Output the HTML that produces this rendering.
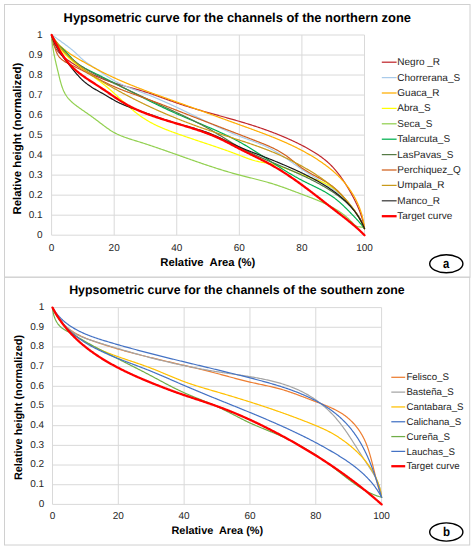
<!DOCTYPE html>
<html><head><meta charset="utf-8"><style>html,body{margin:0;padding:0;background:#fff;width:476px;height:550px;overflow:hidden;position:relative}</style></head>
<body><svg width="476" height="550" viewBox="0 0 476 550" style="position:absolute;left:0;top:0;font-family:'Liberation Sans', sans-serif;text-rendering:geometricPrecision">
<rect x="0" y="0" width="476" height="550" fill="#fff"/>
<rect x="4.5" y="4.5" width="465.5" height="272.7" fill="none" stroke="#D0D0D0" stroke-width="1"/>
<rect x="4.5" y="277.2" width="465.2" height="267.8" fill="none" stroke="#D0D0D0" stroke-width="1"/>
<line x1="51.60" y1="35.00" x2="51.60" y2="235.20" stroke="#D9D9D9" stroke-width="1"/><line x1="114.18" y1="35.00" x2="114.18" y2="235.20" stroke="#D9D9D9" stroke-width="1"/><line x1="176.76" y1="35.00" x2="176.76" y2="235.20" stroke="#D9D9D9" stroke-width="1"/><line x1="239.34" y1="35.00" x2="239.34" y2="235.20" stroke="#D9D9D9" stroke-width="1"/><line x1="301.92" y1="35.00" x2="301.92" y2="235.20" stroke="#D9D9D9" stroke-width="1"/><line x1="364.50" y1="35.00" x2="364.50" y2="235.20" stroke="#D9D9D9" stroke-width="1"/><line x1="51.60" y1="235.20" x2="364.50" y2="235.20" stroke="#D9D9D9" stroke-width="1"/><line x1="51.60" y1="215.18" x2="364.50" y2="215.18" stroke="#D9D9D9" stroke-width="1"/><line x1="51.60" y1="195.16" x2="364.50" y2="195.16" stroke="#D9D9D9" stroke-width="1"/><line x1="51.60" y1="175.14" x2="364.50" y2="175.14" stroke="#D9D9D9" stroke-width="1"/><line x1="51.60" y1="155.12" x2="364.50" y2="155.12" stroke="#D9D9D9" stroke-width="1"/><line x1="51.60" y1="135.10" x2="364.50" y2="135.10" stroke="#D9D9D9" stroke-width="1"/><line x1="51.60" y1="115.08" x2="364.50" y2="115.08" stroke="#D9D9D9" stroke-width="1"/><line x1="51.60" y1="95.06" x2="364.50" y2="95.06" stroke="#D9D9D9" stroke-width="1"/><line x1="51.60" y1="75.04" x2="364.50" y2="75.04" stroke="#D9D9D9" stroke-width="1"/><line x1="51.60" y1="55.02" x2="364.50" y2="55.02" stroke="#D9D9D9" stroke-width="1"/><line x1="51.60" y1="35.00" x2="364.50" y2="35.00" stroke="#D9D9D9" stroke-width="1"/>
<line x1="52.50" y1="307.60" x2="52.50" y2="504.40" stroke="#D9D9D9" stroke-width="1"/><line x1="118.32" y1="307.60" x2="118.32" y2="504.40" stroke="#D9D9D9" stroke-width="1"/><line x1="184.14" y1="307.60" x2="184.14" y2="504.40" stroke="#D9D9D9" stroke-width="1"/><line x1="249.96" y1="307.60" x2="249.96" y2="504.40" stroke="#D9D9D9" stroke-width="1"/><line x1="315.78" y1="307.60" x2="315.78" y2="504.40" stroke="#D9D9D9" stroke-width="1"/><line x1="381.60" y1="307.60" x2="381.60" y2="504.40" stroke="#D9D9D9" stroke-width="1"/><line x1="52.50" y1="504.40" x2="381.60" y2="504.40" stroke="#D9D9D9" stroke-width="1"/><line x1="52.50" y1="484.72" x2="381.60" y2="484.72" stroke="#D9D9D9" stroke-width="1"/><line x1="52.50" y1="465.04" x2="381.60" y2="465.04" stroke="#D9D9D9" stroke-width="1"/><line x1="52.50" y1="445.36" x2="381.60" y2="445.36" stroke="#D9D9D9" stroke-width="1"/><line x1="52.50" y1="425.68" x2="381.60" y2="425.68" stroke="#D9D9D9" stroke-width="1"/><line x1="52.50" y1="406.00" x2="381.60" y2="406.00" stroke="#D9D9D9" stroke-width="1"/><line x1="52.50" y1="386.32" x2="381.60" y2="386.32" stroke="#D9D9D9" stroke-width="1"/><line x1="52.50" y1="366.64" x2="381.60" y2="366.64" stroke="#D9D9D9" stroke-width="1"/><line x1="52.50" y1="346.96" x2="381.60" y2="346.96" stroke="#D9D9D9" stroke-width="1"/><line x1="52.50" y1="327.28" x2="381.60" y2="327.28" stroke="#D9D9D9" stroke-width="1"/><line x1="52.50" y1="307.60" x2="381.60" y2="307.60" stroke="#D9D9D9" stroke-width="1"/>
<path d="M51.60,35.00 L51.66,36.12 L51.76,37.21 L51.90,38.27 L52.07,39.30 L52.28,40.31 L52.53,41.30 L52.82,42.25 L53.13,43.19 L53.48,44.10 L53.86,44.99 L54.27,45.85 L54.72,46.70 L55.18,47.52 L55.68,48.32 L56.20,49.11 L56.75,49.88 L57.32,50.62 L57.91,51.35 L58.53,52.07 L59.16,52.77 L59.82,53.45 L60.49,54.12 L61.18,54.78 L61.89,55.42 L62.61,56.05 L63.34,56.68 L64.09,57.28 L64.85,57.88 L65.62,58.47 L66.40,59.06 L67.19,59.63 L67.99,60.20 L68.79,60.76 L69.60,61.31 L70.41,61.86 L71.22,62.40 L72.04,62.95 L72.86,63.48 L73.69,64.01 L74.51,64.54 L75.34,65.06 L76.17,65.58 L77.01,66.09 L77.85,66.60 L78.69,67.11 L79.53,67.61 L80.38,68.10 L81.23,68.59 L82.08,69.08 L82.93,69.56 L83.79,70.03 L84.65,70.50 L85.51,70.97 L86.38,71.43 L87.25,71.88 L88.11,72.33 L88.99,72.78 L89.86,73.21 L90.74,73.65 L91.62,74.08 L92.50,74.50 L93.38,74.92 L94.27,75.33 L95.16,75.74 L96.05,76.14 L96.94,76.53 L97.83,76.92 L98.73,77.31 L99.63,77.69 L100.53,78.06 L101.43,78.43 L102.34,78.79 L103.25,79.15 L104.15,79.49 L105.06,79.84 L105.98,80.18 L106.89,80.51 L107.81,80.83 L108.73,81.15 L109.65,81.47 L110.57,81.78 L111.49,82.08 L112.41,82.38 L113.34,82.68 L114.27,82.97 L115.19,83.26 L116.12,83.54 L117.05,83.83 L117.98,84.10 L118.92,84.38 L119.85,84.65 L120.78,84.92 L121.72,85.19 L122.65,85.45 L123.59,85.72 L124.52,85.98 L125.46,86.24 L126.40,86.50 L127.33,86.76 L128.27,87.02 L129.21,87.28 L130.15,87.53 L131.08,87.79 L132.02,88.05 L132.96,88.31 L133.90,88.57 L134.83,88.83 L135.77,89.10 L136.71,89.36 L137.64,89.63 L138.58,89.90 L139.51,90.17 L140.44,90.44 L141.38,90.72 L142.31,91.00 L143.24,91.28 L144.17,91.56 L145.10,91.85 L146.03,92.15 L146.95,92.45 L147.88,92.75 L148.80,93.05 L149.73,93.36 L150.65,93.67 L151.57,93.98 L152.50,94.30 L153.42,94.62 L154.34,94.94 L155.26,95.26 L156.17,95.59 L157.09,95.92 L158.01,96.24 L158.93,96.57 L159.85,96.91 L160.76,97.24 L161.68,97.57 L162.60,97.90 L163.52,98.24 L164.43,98.57 L165.35,98.91 L166.27,99.24 L167.18,99.57 L168.10,99.91 L169.02,100.24 L169.94,100.57 L170.85,100.90 L171.77,101.23 L172.69,101.56 L173.61,101.88 L174.53,102.21 L175.45,102.53 L176.37,102.85 L177.30,103.17 L178.22,103.48 L179.14,103.79 L180.07,104.10 L180.99,104.41 L181.92,104.72 L182.85,105.02 L183.77,105.32 L184.70,105.62 L185.63,105.92 L186.56,106.21 L187.49,106.50 L188.42,106.79 L189.35,107.08 L190.28,107.37 L191.21,107.66 L192.15,107.94 L193.08,108.22 L194.01,108.50 L194.95,108.78 L195.88,109.06 L196.81,109.34 L197.75,109.61 L198.68,109.89 L199.62,110.16 L200.56,110.43 L201.49,110.70 L202.43,110.97 L203.37,111.24 L204.30,111.51 L205.24,111.78 L206.18,112.04 L207.12,112.31 L208.06,112.57 L209.00,112.84 L209.93,113.10 L210.87,113.36 L211.81,113.63 L212.75,113.89 L213.69,114.15 L214.63,114.41 L215.57,114.67 L216.51,114.93 L217.45,115.19 L218.39,115.45 L219.33,115.71 L220.27,115.97 L221.21,116.23 L222.14,116.50 L223.08,116.76 L224.02,117.02 L224.96,117.28 L225.90,117.54 L226.84,117.80 L227.78,118.06 L228.72,118.33 L229.65,118.59 L230.59,118.86 L231.53,119.12 L232.47,119.39 L233.41,119.65 L234.34,119.92 L235.28,120.19 L236.22,120.46 L237.15,120.73 L238.09,121.00 L239.02,121.27 L239.96,121.54 L240.89,121.82 L241.83,122.09 L242.76,122.37 L243.69,122.65 L244.63,122.93 L245.56,123.21 L246.49,123.50 L247.42,123.78 L248.35,124.07 L249.28,124.36 L250.21,124.65 L251.14,124.94 L252.07,125.23 L253.00,125.53 L253.92,125.82 L254.85,126.12 L255.77,126.43 L256.70,126.73 L257.62,127.04 L258.55,127.35 L259.47,127.66 L260.39,127.97 L261.31,128.28 L262.23,128.60 L263.15,128.92 L264.07,129.24 L264.99,129.57 L265.91,129.90 L266.82,130.22 L267.74,130.56 L268.65,130.89 L269.57,131.23 L270.48,131.57 L271.39,131.91 L272.30,132.25 L273.21,132.60 L274.12,132.95 L275.03,133.30 L275.93,133.66 L276.84,134.02 L277.74,134.38 L278.65,134.74 L279.55,135.11 L280.45,135.48 L281.35,135.85 L282.25,136.22 L283.15,136.60 L284.04,136.98 L284.94,137.37 L285.83,137.75 L286.73,138.14 L287.62,138.53 L288.51,138.93 L289.40,139.33 L290.29,139.73 L291.17,140.14 L292.06,140.54 L292.94,140.96 L293.83,141.37 L294.71,141.79 L295.59,142.21 L296.47,142.63 L297.35,143.06 L298.22,143.49 L299.10,143.93 L299.97,144.37 L300.84,144.81 L301.71,145.25 L302.58,145.70 L303.45,146.15 L304.31,146.61 L305.18,147.07 L306.04,147.53 L306.90,148.00 L307.75,148.47 L308.61,148.95 L309.46,149.43 L310.30,149.92 L311.15,150.41 L311.99,150.91 L312.82,151.41 L313.66,151.92 L314.49,152.43 L315.31,152.95 L316.13,153.48 L316.94,154.01 L317.75,154.55 L318.56,155.09 L319.36,155.64 L320.15,156.20 L320.94,156.77 L321.72,157.34 L322.50,157.92 L323.27,158.51 L324.03,159.11 L324.79,159.71 L325.53,160.32 L326.28,160.94 L327.01,161.57 L327.74,162.21 L328.46,162.85 L329.17,163.51 L329.87,164.17 L330.57,164.84 L331.26,165.53 L331.93,166.22 L332.60,166.92 L333.27,167.62 L333.92,168.34 L334.57,169.07 L335.21,169.80 L335.84,170.54 L336.47,171.28 L337.08,172.04 L337.69,172.80 L338.30,173.56 L338.90,174.34 L339.49,175.12 L340.07,175.90 L340.65,176.69 L341.22,177.49 L341.79,178.29 L342.35,179.10 L342.90,179.91 L343.45,180.72 L343.99,181.54 L344.53,182.36 L345.06,183.19 L345.58,184.02 L346.11,184.85 L346.62,185.69 L347.14,186.53 L347.64,187.37 L348.15,188.21 L348.64,189.06 L349.14,189.90 L349.63,190.75 L350.12,191.60 L350.60,192.45 L351.08,193.30 L351.55,194.16 L352.02,195.01 L352.49,195.86 L352.95,196.72 L353.40,197.58 L353.85,198.44 L354.30,199.30 L354.74,200.17 L355.17,201.03 L355.60,201.90 L356.02,202.77 L356.43,203.65 L356.84,204.52 L357.24,205.40 L357.64,206.28 L358.02,207.17 L358.40,208.06 L358.78,208.95 L359.14,209.84 L359.50,210.74 L359.85,211.64 L360.19,212.54 L360.52,213.45 L360.84,214.36 L361.15,215.28 L361.46,216.20 L361.76,217.13 L362.04,218.05 L362.32,218.99 L362.58,219.93 L362.84,220.87 L363.09,221.82 L363.32,222.77 L363.55,223.73 L363.76,224.69 L363.96,225.66 L364.15,226.63 L364.33,227.61 L364.50,228.59" fill="none" stroke="#C0272D" stroke-width="1.2" stroke-linejoin="round" stroke-linecap="round"/><path d="M51.60,35.00 L52.38,35.49 L53.16,36.00 L53.94,36.51 L54.71,37.03 L55.48,37.55 L56.25,38.08 L57.01,38.62 L57.78,39.16 L58.54,39.71 L59.30,40.25 L60.06,40.80 L60.82,41.35 L61.58,41.90 L62.34,42.45 L63.10,43.01 L63.86,43.56 L64.62,44.11 L65.37,44.67 L66.13,45.22 L66.88,45.78 L67.63,46.34 L68.37,46.90 L69.11,47.47 L69.85,48.04 L70.58,48.62 L71.31,49.20 L72.03,49.79 L72.75,50.38 L73.45,50.99 L74.15,51.60 L74.84,52.22 L75.53,52.85 L76.21,53.48 L76.88,54.12 L77.55,54.77 L78.22,55.41 L78.89,56.06 L79.57,56.70 L80.24,57.33 L80.92,57.97 L81.61,58.59 L82.30,59.20 L83.00,59.81 L83.71,60.40 L84.43,60.99 L85.16,61.56 L85.90,62.12 L86.65,62.67 L87.40,63.21 L88.17,63.74 L88.94,64.26 L89.72,64.77 L90.51,65.27 L91.30,65.78 L92.09,66.28 L92.88,66.78 L93.68,67.28 L94.47,67.78 L95.26,68.28 L96.05,68.80 L96.84,69.31 L97.62,69.83 L98.40,70.35 L99.18,70.88 L99.96,71.41 L100.74,71.94 L101.52,72.47 L102.29,73.00 L103.07,73.53 L103.85,74.07 L104.63,74.59 L105.40,75.12 L106.18,75.65 L106.97,76.17 L107.75,76.69 L108.53,77.20 L109.32,77.71 L110.11,78.21 L110.91,78.71 L111.70,79.20 L112.50,79.68 L113.31,80.15 L114.12,80.62 L114.93,81.08 L115.75,81.52 L116.58,81.96 L117.41,82.39 L118.24,82.81 L119.07,83.23 L119.91,83.64 L120.76,84.04 L121.61,84.43 L122.46,84.82 L123.31,85.20 L124.17,85.57 L125.03,85.94 L125.89,86.31 L126.75,86.67 L127.62,87.02 L128.49,87.37 L129.36,87.72 L130.24,88.06 L131.11,88.40 L131.99,88.74 L132.86,89.08 L133.74,89.41 L134.62,89.74 L135.50,90.07 L136.38,90.40 L137.27,90.73 L138.15,91.06 L139.03,91.38 L139.91,91.71 L140.79,92.04 L141.68,92.37 L142.56,92.70 L143.44,93.03 L144.32,93.36 L145.20,93.70 L146.07,94.03 L146.95,94.37 L147.82,94.72 L148.70,95.06 L149.57,95.41 L150.44,95.76 L151.31,96.11 L152.18,96.46 L153.05,96.82 L153.92,97.17 L154.79,97.53 L155.65,97.90 L156.52,98.26 L157.38,98.62 L158.24,98.99 L159.11,99.36 L159.97,99.73 L160.83,100.10 L161.69,100.48 L162.54,100.85 L163.40,101.23 L164.26,101.61 L165.12,101.99 L165.97,102.37 L166.83,102.76 L167.68,103.14 L168.53,103.53 L169.39,103.92 L170.24,104.30 L171.09,104.70 L171.94,105.09 L172.79,105.48 L173.64,105.87 L174.49,106.27 L175.34,106.66 L176.19,107.06 L177.04,107.46 L177.88,107.86 L178.73,108.26 L179.58,108.66 L180.42,109.06 L181.27,109.46 L182.12,109.86 L182.96,110.26 L183.81,110.67 L184.65,111.07 L185.50,111.48 L186.34,111.88 L187.18,112.29 L188.03,112.69 L188.87,113.10 L189.71,113.51 L190.56,113.92 L191.40,114.32 L192.24,114.73 L193.09,115.14 L193.93,115.55 L194.77,115.95 L195.62,116.36 L196.46,116.77 L197.30,117.18 L198.15,117.59 L198.99,117.99 L199.83,118.40 L200.68,118.81 L201.52,119.22 L202.36,119.62 L203.21,120.03 L204.05,120.43 L204.89,120.84 L205.74,121.25 L206.58,121.65 L207.43,122.05 L208.27,122.46 L209.12,122.86 L209.96,123.26 L210.81,123.66 L211.66,124.06 L212.50,124.46 L213.35,124.86 L214.20,125.26 L215.05,125.66 L215.90,126.05 L216.75,126.45 L217.60,126.84 L218.45,127.23 L219.30,127.62 L220.15,128.01 L221.01,128.40 L221.86,128.79 L222.71,129.17 L223.57,129.55 L224.43,129.93 L225.28,130.31 L226.14,130.69 L227.00,131.07 L227.86,131.44 L228.72,131.81 L229.58,132.18 L230.45,132.55 L231.31,132.91 L232.18,133.27 L233.04,133.63 L233.91,133.99 L234.78,134.35 L235.65,134.70 L236.52,135.05 L237.40,135.40 L238.27,135.74 L239.15,136.08 L240.02,136.42 L240.90,136.76 L241.78,137.09 L242.66,137.42 L243.55,137.76 L244.43,138.08 L245.31,138.41 L246.19,138.74 L247.08,139.06 L247.96,139.39 L248.84,139.72 L249.73,140.04 L250.61,140.37 L251.49,140.70 L252.37,141.03 L253.25,141.36 L254.13,141.69 L255.01,142.02 L255.89,142.36 L256.76,142.70 L257.64,143.04 L258.51,143.39 L259.38,143.74 L260.25,144.09 L261.11,144.45 L261.97,144.81 L262.83,145.17 L263.69,145.54 L264.55,145.92 L265.40,146.30 L266.24,146.69 L267.09,147.09 L267.93,147.49 L268.77,147.90 L269.60,148.31 L270.43,148.73 L271.26,149.16 L272.08,149.60 L272.89,150.05 L273.71,150.50 L274.52,150.96 L275.32,151.43 L276.12,151.90 L276.92,152.38 L277.72,152.87 L278.51,153.36 L279.30,153.86 L280.09,154.36 L280.87,154.87 L281.65,155.38 L282.43,155.89 L283.21,156.41 L283.99,156.93 L284.76,157.46 L285.54,157.99 L286.31,158.52 L287.08,159.05 L287.85,159.59 L288.62,160.13 L289.39,160.67 L290.16,161.21 L290.93,161.75 L291.70,162.29 L292.47,162.83 L293.23,163.38 L294.00,163.92 L294.77,164.46 L295.55,165.00 L296.32,165.54 L297.09,166.08 L297.87,166.61 L298.64,167.15 L299.42,167.68 L300.20,168.21 L300.98,168.73 L301.76,169.26 L302.55,169.78 L303.34,170.29 L304.13,170.81 L304.92,171.31 L305.72,171.82 L306.51,172.33 L307.31,172.83 L308.11,173.33 L308.91,173.82 L309.71,174.32 L310.52,174.82 L311.32,175.31 L312.12,175.80 L312.93,176.29 L313.73,176.78 L314.53,177.27 L315.34,177.76 L316.14,178.25 L316.95,178.74 L317.75,179.23 L318.55,179.72 L319.35,180.21 L320.15,180.70 L320.95,181.20 L321.75,181.69 L322.54,182.19 L323.33,182.69 L324.13,183.19 L324.91,183.69 L325.70,184.20 L326.49,184.71 L327.27,185.22 L328.05,185.73 L328.82,186.25 L329.60,186.77 L330.37,187.29 L331.13,187.82 L331.90,188.36 L332.66,188.89 L333.41,189.44 L334.16,189.98 L334.91,190.54 L335.65,191.09 L336.39,191.66 L337.12,192.23 L337.85,192.80 L338.57,193.38 L339.29,193.97 L340.00,194.56 L340.71,195.16 L341.41,195.77 L342.11,196.38 L342.80,197.01 L343.48,197.64 L344.15,198.27 L344.82,198.92 L345.49,199.57 L346.14,200.23 L346.79,200.91 L347.43,201.59 L348.07,202.27 L348.70,202.97 L349.32,203.68 L349.93,204.40 L350.53,205.13 L351.13,205.86 L351.71,206.61 L352.29,207.37 L352.86,208.14 L353.42,208.92 L353.98,209.70 L354.52,210.50 L355.06,211.30 L355.59,212.10 L356.11,212.92 L356.62,213.74 L357.12,214.56 L357.62,215.38 L358.11,216.21 L358.59,217.05 L359.06,217.88 L359.52,218.72 L359.98,219.55 L360.43,220.39 L360.87,221.22 L361.30,222.05 L361.73,222.89 L362.15,223.71 L362.56,224.54 L362.96,225.36 L363.36,226.18 L363.74,226.99 L364.13,227.79 L364.50,228.59" fill="none" stroke="#A9CBEA" stroke-width="1.2" stroke-linejoin="round" stroke-linecap="round"/><path d="M51.60,35.00 L52.10,35.86 L52.62,36.71 L53.16,37.53 L53.71,38.35 L54.27,39.14 L54.85,39.92 L55.44,40.68 L56.04,41.43 L56.66,42.17 L57.29,42.89 L57.93,43.60 L58.58,44.29 L59.24,44.97 L59.92,45.64 L60.60,46.30 L61.30,46.94 L62.00,47.57 L62.72,48.20 L63.44,48.81 L64.18,49.41 L64.92,50.00 L65.67,50.58 L66.42,51.16 L67.19,51.72 L67.96,52.28 L68.74,52.83 L69.52,53.37 L70.31,53.90 L71.11,54.43 L71.91,54.95 L72.71,55.47 L73.52,55.98 L74.34,56.49 L75.16,56.99 L75.98,57.48 L76.80,57.98 L77.63,58.47 L78.46,58.95 L79.29,59.44 L80.12,59.92 L80.96,60.40 L81.79,60.88 L82.63,61.36 L83.46,61.83 L84.30,62.31 L85.14,62.78 L85.98,63.25 L86.81,63.72 L87.65,64.19 L88.49,64.66 L89.33,65.13 L90.18,65.59 L91.02,66.06 L91.86,66.52 L92.70,66.98 L93.55,67.44 L94.39,67.89 L95.24,68.35 L96.09,68.80 L96.94,69.25 L97.78,69.70 L98.63,70.15 L99.49,70.59 L100.34,71.03 L101.19,71.47 L102.05,71.91 L102.90,72.34 L103.76,72.77 L104.62,73.20 L105.47,73.63 L106.34,74.05 L107.20,74.47 L108.06,74.89 L108.92,75.31 L109.79,75.72 L110.65,76.13 L111.52,76.54 L112.39,76.95 L113.26,77.35 L114.13,77.75 L115.00,78.15 L115.88,78.54 L116.75,78.94 L117.63,79.33 L118.50,79.72 L119.38,80.10 L120.26,80.49 L121.14,80.87 L122.02,81.25 L122.90,81.63 L123.78,82.01 L124.66,82.38 L125.54,82.75 L126.43,83.13 L127.31,83.49 L128.20,83.86 L129.09,84.23 L129.97,84.59 L130.86,84.95 L131.75,85.31 L132.64,85.67 L133.53,86.03 L134.42,86.38 L135.31,86.73 L136.21,87.09 L137.10,87.44 L137.99,87.79 L138.89,88.13 L139.78,88.48 L140.68,88.83 L141.57,89.17 L142.47,89.51 L143.37,89.85 L144.26,90.19 L145.16,90.53 L146.06,90.87 L146.96,91.21 L147.86,91.54 L148.76,91.88 L149.66,92.21 L150.56,92.55 L151.46,92.88 L152.36,93.21 L153.26,93.54 L154.16,93.87 L155.06,94.20 L155.97,94.53 L156.87,94.86 L157.77,95.18 L158.67,95.51 L159.58,95.84 L160.48,96.16 L161.38,96.49 L162.29,96.81 L163.19,97.14 L164.09,97.46 L165.00,97.78 L165.90,98.11 L166.80,98.43 L167.71,98.75 L168.61,99.08 L169.51,99.40 L170.42,99.72 L171.32,100.05 L172.22,100.37 L173.13,100.69 L174.03,101.01 L174.93,101.34 L175.84,101.66 L176.74,101.98 L177.64,102.31 L178.54,102.63 L179.45,102.95 L180.35,103.28 L181.25,103.60 L182.15,103.93 L183.05,104.25 L183.95,104.58 L184.86,104.90 L185.76,105.23 L186.66,105.55 L187.56,105.88 L188.46,106.20 L189.36,106.53 L190.26,106.85 L191.16,107.18 L192.06,107.51 L192.96,107.83 L193.86,108.16 L194.76,108.48 L195.66,108.81 L196.56,109.14 L197.46,109.47 L198.36,109.79 L199.26,110.12 L200.16,110.45 L201.06,110.77 L201.96,111.10 L202.86,111.43 L203.76,111.76 L204.66,112.08 L205.56,112.41 L206.46,112.74 L207.36,113.07 L208.26,113.39 L209.16,113.72 L210.06,114.05 L210.95,114.38 L211.85,114.71 L212.75,115.03 L213.65,115.36 L214.55,115.69 L215.45,116.02 L216.35,116.35 L217.25,116.67 L218.15,117.00 L219.05,117.33 L219.96,117.66 L220.86,117.99 L221.76,118.31 L222.66,118.64 L223.56,118.97 L224.46,119.30 L225.36,119.63 L226.26,119.95 L227.16,120.28 L228.06,120.61 L228.97,120.94 L229.87,121.26 L230.77,121.59 L231.67,121.92 L232.57,122.25 L233.48,122.57 L234.38,122.90 L235.28,123.23 L236.19,123.55 L237.09,123.88 L237.99,124.21 L238.90,124.54 L239.80,124.86 L240.70,125.19 L241.61,125.51 L242.51,125.84 L243.42,126.17 L244.32,126.49 L245.23,126.82 L246.13,127.15 L247.04,127.47 L247.94,127.80 L248.85,128.13 L249.75,128.46 L250.66,128.79 L251.56,129.12 L252.47,129.45 L253.37,129.78 L254.27,130.11 L255.18,130.44 L256.08,130.77 L256.98,131.11 L257.89,131.44 L258.79,131.78 L259.69,132.11 L260.59,132.45 L261.49,132.79 L262.39,133.13 L263.29,133.47 L264.19,133.81 L265.09,134.15 L265.99,134.50 L266.89,134.84 L267.78,135.19 L268.68,135.54 L269.57,135.89 L270.47,136.24 L271.36,136.60 L272.25,136.95 L273.15,137.31 L274.04,137.67 L274.93,138.03 L275.82,138.39 L276.70,138.76 L277.59,139.13 L278.48,139.50 L279.36,139.87 L280.25,140.24 L281.13,140.62 L282.01,140.99 L282.89,141.37 L283.77,141.76 L284.65,142.14 L285.52,142.53 L286.40,142.92 L287.27,143.31 L288.14,143.71 L289.01,144.11 L289.88,144.51 L290.75,144.91 L291.62,145.32 L292.48,145.73 L293.35,146.14 L294.21,146.56 L295.07,146.97 L295.93,147.40 L296.78,147.82 L297.64,148.25 L298.49,148.68 L299.34,149.11 L300.19,149.55 L301.04,149.99 L301.88,150.44 L302.73,150.89 L303.57,151.34 L304.41,151.80 L305.25,152.25 L306.08,152.72 L306.92,153.18 L307.75,153.66 L308.58,154.13 L309.41,154.61 L310.23,155.09 L311.05,155.58 L311.88,156.07 L312.69,156.56 L313.51,157.06 L314.32,157.57 L315.14,158.07 L315.94,158.59 L316.75,159.10 L317.56,159.62 L318.36,160.15 L319.16,160.68 L319.95,161.21 L320.75,161.75 L321.54,162.30 L322.33,162.85 L323.11,163.40 L323.90,163.96 L324.68,164.52 L325.45,165.09 L326.23,165.66 L326.99,166.24 L327.76,166.83 L328.52,167.42 L329.28,168.01 L330.03,168.61 L330.78,169.22 L331.52,169.83 L332.26,170.45 L333.00,171.08 L333.72,171.71 L334.45,172.34 L335.16,172.99 L335.87,173.63 L336.58,174.29 L337.28,174.95 L337.97,175.62 L338.65,176.29 L339.33,176.97 L340.01,177.66 L340.67,178.36 L341.33,179.06 L341.98,179.76 L342.62,180.48 L343.26,181.20 L343.89,181.92 L344.51,182.65 L345.12,183.39 L345.73,184.14 L346.33,184.89 L346.92,185.64 L347.50,186.40 L348.08,187.17 L348.64,187.94 L349.20,188.72 L349.75,189.51 L350.29,190.30 L350.83,191.09 L351.35,191.89 L351.87,192.70 L352.38,193.51 L352.88,194.33 L353.37,195.15 L353.85,195.97 L354.32,196.81 L354.78,197.64 L355.24,198.48 L355.68,199.33 L356.12,200.18 L356.54,201.04 L356.96,201.90 L357.37,202.76 L357.76,203.63 L358.15,204.51 L358.53,205.38 L358.89,206.27 L359.25,207.15 L359.60,208.05 L359.94,208.94 L360.26,209.84 L360.58,210.74 L360.88,211.65 L361.18,212.56 L361.46,213.48 L361.74,214.40 L362.00,215.32 L362.25,216.25 L362.49,217.18 L362.72,218.11 L362.94,219.05 L363.15,219.99 L363.35,220.93 L363.53,221.88 L363.71,222.83 L363.87,223.78 L364.02,224.74 L364.16,225.70 L364.28,226.66 L364.40,227.63 L364.50,228.59" fill="none" stroke="#FFAD00" stroke-width="1.2" stroke-linejoin="round" stroke-linecap="round"/><path d="M51.60,35.00 L52.03,35.91 L52.47,36.81 L52.92,37.70 L53.38,38.57 L53.85,39.43 L54.34,40.28 L54.83,41.12 L55.34,41.95 L55.85,42.77 L56.38,43.57 L56.91,44.37 L57.46,45.16 L58.01,45.93 L58.57,46.70 L59.15,47.46 L59.73,48.20 L60.32,48.94 L60.92,49.67 L61.52,50.39 L62.14,51.10 L62.76,51.81 L63.39,52.50 L64.03,53.19 L64.67,53.87 L65.32,54.54 L65.98,55.21 L66.65,55.87 L67.32,56.52 L68.00,57.16 L68.68,57.80 L69.37,58.44 L70.07,59.06 L70.77,59.69 L71.47,60.30 L72.19,60.91 L72.90,61.52 L73.63,62.12 L74.35,62.72 L75.08,63.31 L75.82,63.90 L76.56,64.48 L77.30,65.06 L78.04,65.64 L78.79,66.21 L79.55,66.78 L80.30,67.35 L81.06,67.92 L81.82,68.48 L82.59,69.04 L83.35,69.60 L84.12,70.16 L84.89,70.72 L85.66,71.27 L86.43,71.82 L87.21,72.38 L87.98,72.93 L88.76,73.48 L89.54,74.03 L90.31,74.58 L91.09,75.14 L91.87,75.69 L92.65,76.24 L93.42,76.80 L94.20,77.35 L94.98,77.91 L95.75,78.47 L96.52,79.03 L97.30,79.59 L98.07,80.16 L98.84,80.72 L99.61,81.29 L100.37,81.87 L101.14,82.44 L101.90,83.02 L102.66,83.60 L103.41,84.19 L104.17,84.78 L104.92,85.38 L105.66,85.97 L106.40,86.58 L107.14,87.19 L107.88,87.80 L108.61,88.42 L109.34,89.04 L110.07,89.66 L110.79,90.29 L111.51,90.92 L112.23,91.56 L112.95,92.19 L113.66,92.83 L114.38,93.47 L115.09,94.12 L115.80,94.76 L116.50,95.41 L117.21,96.06 L117.92,96.71 L118.62,97.36 L119.33,98.01 L120.03,98.66 L120.73,99.31 L121.44,99.96 L122.14,100.61 L122.85,101.25 L123.55,101.90 L124.26,102.55 L124.96,103.19 L125.67,103.84 L126.37,104.48 L127.08,105.11 L127.79,105.75 L128.51,106.38 L129.22,107.01 L129.93,107.64 L130.65,108.26 L131.37,108.88 L132.09,109.50 L132.82,110.11 L133.55,110.72 L134.28,111.32 L135.01,111.92 L135.75,112.51 L136.49,113.10 L137.23,113.68 L137.98,114.25 L138.74,114.82 L139.49,115.38 L140.25,115.94 L141.02,116.48 L141.79,117.03 L142.56,117.56 L143.34,118.09 L144.13,118.60 L144.92,119.11 L145.72,119.61 L146.52,120.11 L147.33,120.59 L148.14,121.07 L148.96,121.54 L149.78,122.00 L150.60,122.45 L151.44,122.90 L152.27,123.34 L153.11,123.77 L153.96,124.20 L154.81,124.62 L155.66,125.03 L156.51,125.44 L157.37,125.84 L158.24,126.24 L159.10,126.63 L159.97,127.01 L160.84,127.39 L161.72,127.77 L162.59,128.14 L163.47,128.51 L164.36,128.87 L165.24,129.23 L166.13,129.58 L167.02,129.93 L167.91,130.28 L168.80,130.62 L169.69,130.96 L170.58,131.30 L171.48,131.63 L172.38,131.96 L173.27,132.29 L174.17,132.62 L175.07,132.94 L175.97,133.26 L176.87,133.58 L177.77,133.90 L178.67,134.22 L179.56,134.54 L180.46,134.85 L181.36,135.17 L182.26,135.48 L183.16,135.79 L184.06,136.10 L184.96,136.41 L185.86,136.72 L186.76,137.03 L187.66,137.33 L188.56,137.64 L189.46,137.94 L190.36,138.25 L191.26,138.55 L192.16,138.86 L193.06,139.16 L193.96,139.46 L194.85,139.76 L195.75,140.06 L196.65,140.36 L197.55,140.66 L198.45,140.96 L199.35,141.26 L200.25,141.56 L201.15,141.86 L202.05,142.16 L202.94,142.46 L203.84,142.76 L204.74,143.06 L205.64,143.36 L206.54,143.65 L207.43,143.95 L208.33,144.25 L209.23,144.55 L210.13,144.86 L211.02,145.16 L211.92,145.46 L212.82,145.76 L213.72,146.06 L214.61,146.37 L215.51,146.67 L216.40,146.98 L217.30,147.28 L218.20,147.59 L219.09,147.90 L219.99,148.21 L220.88,148.52 L221.77,148.83 L222.67,149.14 L223.56,149.45 L224.46,149.77 L225.35,150.08 L226.24,150.40 L227.14,150.72 L228.03,151.04 L228.92,151.36 L229.81,151.68 L230.71,152.01 L231.60,152.33 L232.49,152.66 L233.38,152.99 L234.27,153.32 L235.16,153.66 L236.05,153.99 L236.94,154.33 L237.83,154.67 L238.72,155.01 L239.60,155.35 L240.49,155.70 L241.38,156.05 L242.27,156.39 L243.16,156.74 L244.04,157.08 L244.93,157.43 L245.82,157.76 L246.72,158.10 L247.61,158.43 L248.51,158.75 L249.40,159.06 L250.30,159.37 L251.20,159.67 L252.11,159.96 L253.02,160.23 L253.93,160.50 L254.84,160.75 L255.76,160.98 L256.68,161.21 L257.61,161.42 L258.54,161.61 L259.47,161.80 L260.40,161.98 L261.34,162.15 L262.27,162.32 L263.21,162.48 L264.15,162.64 L265.09,162.80 L266.02,162.96 L266.96,163.12 L267.90,163.29 L268.83,163.46 L269.76,163.64 L270.69,163.83 L271.61,164.03 L272.53,164.24 L273.45,164.47 L274.37,164.70 L275.28,164.94 L276.19,165.20 L277.09,165.46 L278.00,165.73 L278.90,166.01 L279.80,166.30 L280.70,166.59 L281.59,166.89 L282.49,167.20 L283.38,167.52 L284.27,167.84 L285.16,168.16 L286.05,168.49 L286.94,168.82 L287.83,169.16 L288.72,169.50 L289.61,169.84 L290.50,170.19 L291.38,170.54 L292.27,170.89 L293.16,171.24 L294.05,171.59 L294.94,171.94 L295.83,172.29 L296.73,172.64 L297.62,172.99 L298.52,173.33 L299.41,173.68 L300.31,174.02 L301.21,174.36 L302.12,174.69 L303.02,175.02 L303.93,175.35 L304.84,175.67 L305.75,176.00 L306.66,176.32 L307.57,176.64 L308.48,176.96 L309.39,177.27 L310.30,177.59 L311.21,177.91 L312.12,178.23 L313.03,178.56 L313.94,178.88 L314.84,179.21 L315.74,179.54 L316.64,179.88 L317.53,180.22 L318.43,180.57 L319.31,180.92 L320.20,181.28 L321.08,181.64 L321.95,182.01 L322.82,182.39 L323.69,182.78 L324.54,183.17 L325.40,183.58 L326.24,183.99 L327.08,184.42 L327.91,184.86 L328.74,185.30 L329.55,185.76 L330.36,186.24 L331.16,186.72 L331.95,187.22 L332.73,187.73 L333.51,188.26 L334.27,188.80 L335.02,189.36 L335.76,189.93 L336.50,190.51 L337.22,191.11 L337.94,191.72 L338.65,192.34 L339.35,192.98 L340.04,193.62 L340.72,194.28 L341.40,194.94 L342.07,195.62 L342.73,196.30 L343.39,197.00 L344.04,197.70 L344.68,198.41 L345.31,199.12 L345.95,199.85 L346.57,200.58 L347.19,201.31 L347.80,202.05 L348.41,202.80 L349.02,203.55 L349.61,204.30 L350.21,205.06 L350.80,205.82 L351.39,206.59 L351.97,207.35 L352.55,208.12 L353.12,208.89 L353.69,209.66 L354.26,210.43 L354.82,211.21 L355.37,211.99 L355.92,212.78 L356.46,213.56 L356.99,214.36 L357.51,215.15 L358.03,215.95 L358.54,216.75 L359.04,217.56 L359.52,218.38 L360.00,219.20 L360.47,220.02 L360.93,220.85 L361.38,221.68 L361.81,222.52 L362.24,223.37 L362.65,224.22 L363.04,225.08 L363.43,225.95 L363.80,226.82 L364.16,227.71 L364.50,228.59" fill="none" stroke="#FFFF00" stroke-width="1.2" stroke-linejoin="round" stroke-linecap="round"/><path d="M51.60,35.00 L51.65,36.01 L51.72,37.02 L51.79,38.03 L51.87,39.03 L51.96,40.02 L52.05,41.01 L52.16,42.00 L52.27,42.98 L52.39,43.96 L52.51,44.94 L52.64,45.91 L52.78,46.88 L52.93,47.85 L53.08,48.81 L53.24,49.78 L53.40,50.74 L53.57,51.69 L53.75,52.65 L53.93,53.60 L54.11,54.56 L54.30,55.51 L54.50,56.46 L54.69,57.41 L54.90,58.36 L55.10,59.31 L55.31,60.26 L55.52,61.21 L55.74,62.16 L55.96,63.11 L56.18,64.06 L56.40,65.01 L56.63,65.96 L56.86,66.92 L57.09,67.87 L57.32,68.83 L57.55,69.79 L57.78,70.75 L58.02,71.72 L58.25,72.68 L58.49,73.65 L58.72,74.63 L58.96,75.60 L59.20,76.58 L59.43,77.56 L59.68,78.54 L59.92,79.52 L60.17,80.50 L60.43,81.48 L60.70,82.45 L60.97,83.42 L61.26,84.38 L61.56,85.34 L61.87,86.29 L62.19,87.23 L62.53,88.17 L62.89,89.09 L63.26,90.00 L63.65,90.90 L64.07,91.78 L64.50,92.65 L64.96,93.51 L65.44,94.35 L65.94,95.17 L66.48,95.97 L67.03,96.75 L67.62,97.52 L68.23,98.27 L68.86,99.00 L69.51,99.72 L70.19,100.42 L70.88,101.10 L71.59,101.78 L72.32,102.43 L73.06,103.08 L73.81,103.72 L74.58,104.35 L75.36,104.96 L76.15,105.57 L76.95,106.17 L77.75,106.76 L78.56,107.35 L79.38,107.93 L80.19,108.51 L81.01,109.08 L81.83,109.65 L82.65,110.21 L83.47,110.78 L84.28,111.34 L85.09,111.90 L85.90,112.46 L86.71,113.03 L87.51,113.59 L88.32,114.15 L89.12,114.72 L89.92,115.28 L90.72,115.85 L91.51,116.42 L92.31,116.99 L93.10,117.57 L93.89,118.14 L94.68,118.73 L95.47,119.31 L96.26,119.90 L97.04,120.50 L97.83,121.10 L98.61,121.70 L99.40,122.30 L100.18,122.90 L100.97,123.50 L101.76,124.10 L102.54,124.70 L103.34,125.30 L104.13,125.89 L104.92,126.48 L105.72,127.07 L106.53,127.65 L107.33,128.22 L108.14,128.78 L108.96,129.33 L109.78,129.88 L110.60,130.41 L111.43,130.94 L112.27,131.45 L113.11,131.95 L113.96,132.43 L114.82,132.90 L115.68,133.36 L116.55,133.80 L117.43,134.23 L118.32,134.64 L119.21,135.04 L120.11,135.43 L121.01,135.81 L121.92,136.17 L122.83,136.53 L123.75,136.88 L124.67,137.22 L125.60,137.55 L126.52,137.87 L127.46,138.19 L128.39,138.50 L129.33,138.81 L130.27,139.11 L131.21,139.41 L132.16,139.71 L133.10,140.00 L134.05,140.29 L134.99,140.58 L135.94,140.87 L136.89,141.16 L137.83,141.46 L138.78,141.75 L139.72,142.05 L140.67,142.34 L141.61,142.64 L142.55,142.94 L143.49,143.25 L144.44,143.55 L145.38,143.85 L146.32,144.16 L147.26,144.47 L148.20,144.78 L149.14,145.09 L150.07,145.40 L151.01,145.71 L151.95,146.02 L152.88,146.34 L153.82,146.65 L154.76,146.97 L155.69,147.29 L156.63,147.60 L157.56,147.92 L158.50,148.24 L159.43,148.56 L160.36,148.89 L161.30,149.21 L162.23,149.53 L163.16,149.85 L164.09,150.18 L165.03,150.50 L165.96,150.83 L166.89,151.16 L167.82,151.48 L168.75,151.81 L169.68,152.14 L170.61,152.46 L171.54,152.79 L172.47,153.12 L173.40,153.45 L174.33,153.78 L175.26,154.11 L176.19,154.44 L177.12,154.77 L178.05,155.10 L178.98,155.43 L179.91,155.76 L180.84,156.08 L181.76,156.41 L182.69,156.74 L183.62,157.07 L184.55,157.40 L185.48,157.73 L186.41,158.06 L187.34,158.39 L188.27,158.71 L189.20,159.04 L190.13,159.37 L191.05,159.70 L191.98,160.02 L192.91,160.35 L193.84,160.67 L194.77,161.00 L195.70,161.32 L196.63,161.64 L197.56,161.97 L198.49,162.29 L199.42,162.61 L200.36,162.93 L201.29,163.25 L202.22,163.57 L203.15,163.88 L204.08,164.20 L205.01,164.52 L205.95,164.83 L206.88,165.14 L207.81,165.46 L208.75,165.77 L209.68,166.08 L210.62,166.39 L211.55,166.69 L212.49,167.00 L213.42,167.30 L214.36,167.61 L215.29,167.91 L216.23,168.21 L217.17,168.51 L218.11,168.81 L219.04,169.10 L219.98,169.40 L220.92,169.69 L221.86,169.98 L222.80,170.27 L223.75,170.56 L224.69,170.84 L225.63,171.13 L226.57,171.41 L227.52,171.69 L228.46,171.97 L229.41,172.24 L230.35,172.52 L231.30,172.79 L232.25,173.06 L233.19,173.33 L234.14,173.59 L235.09,173.86 L236.04,174.12 L236.99,174.38 L237.94,174.63 L238.90,174.89 L239.85,175.14 L240.80,175.39 L241.76,175.64 L242.71,175.88 L243.67,176.13 L244.63,176.37 L245.58,176.61 L246.54,176.85 L247.50,177.09 L248.46,177.33 L249.41,177.57 L250.37,177.81 L251.33,178.04 L252.29,178.28 L253.25,178.52 L254.20,178.76 L255.16,179.00 L256.12,179.24 L257.07,179.48 L258.03,179.73 L258.99,179.97 L259.94,180.22 L260.90,180.47 L261.85,180.72 L262.80,180.97 L263.75,181.23 L264.70,181.49 L265.65,181.75 L266.60,182.01 L267.55,182.28 L268.50,182.56 L269.44,182.83 L270.39,183.11 L271.33,183.40 L272.27,183.68 L273.21,183.98 L274.15,184.27 L275.08,184.57 L276.02,184.88 L276.96,185.19 L277.89,185.50 L278.82,185.81 L279.75,186.13 L280.68,186.45 L281.61,186.77 L282.54,187.10 L283.47,187.43 L284.40,187.76 L285.33,188.09 L286.25,188.42 L287.18,188.76 L288.10,189.10 L289.03,189.44 L289.95,189.78 L290.88,190.13 L291.80,190.47 L292.73,190.82 L293.65,191.16 L294.57,191.51 L295.50,191.86 L296.42,192.21 L297.35,192.55 L298.27,192.90 L299.20,193.25 L300.12,193.60 L301.05,193.95 L301.97,194.30 L302.90,194.65 L303.82,195.00 L304.75,195.35 L305.68,195.69 L306.60,196.04 L307.53,196.39 L308.46,196.74 L309.38,197.10 L310.31,197.45 L311.23,197.81 L312.15,198.16 L313.07,198.52 L313.99,198.89 L314.91,199.25 L315.83,199.62 L316.75,199.99 L317.66,200.36 L318.57,200.74 L319.48,201.13 L320.38,201.51 L321.29,201.90 L322.19,202.30 L323.09,202.70 L323.98,203.11 L324.88,203.52 L325.76,203.94 L326.65,204.36 L327.53,204.79 L328.41,205.22 L329.28,205.67 L330.15,206.12 L331.02,206.57 L331.88,207.04 L332.74,207.51 L333.59,207.99 L334.43,208.48 L335.28,208.97 L336.11,209.48 L336.95,209.99 L337.77,210.52 L338.59,211.05 L339.41,211.59 L340.22,212.14 L341.02,212.70 L341.82,213.28 L342.61,213.86 L343.39,214.45 L344.17,215.06 L344.94,215.68 L345.70,216.31 L346.46,216.95 L347.21,217.60 L347.95,218.26 L348.68,218.94 L349.41,219.63 L350.13,220.33 L350.84,221.05 L351.54,221.78 L352.24,222.52 L352.93,223.26 L353.65,223.97 L354.38,224.65 L355.16,225.27 L355.98,225.81 L356.85,226.27 L357.79,226.62 L358.82,226.84 L359.90,226.95 L361.00,227.04 L362.07,227.17 L363.04,227.42 L363.87,227.87 L364.50,228.59" fill="none" stroke="#92D050" stroke-width="1.2" stroke-linejoin="round" stroke-linecap="round"/><path d="M51.60,35.00 L51.89,35.96 L52.24,36.88 L52.63,37.75 L53.07,38.58 L53.55,39.38 L54.07,40.14 L54.62,40.88 L55.20,41.59 L55.80,42.27 L56.43,42.94 L57.08,43.60 L57.74,44.24 L58.41,44.87 L59.10,45.49 L59.79,46.11 L60.49,46.73 L61.18,47.36 L61.88,47.98 L62.57,48.61 L63.26,49.26 L63.93,49.91 L64.60,50.57 L65.26,51.25 L65.91,51.92 L66.56,52.61 L67.21,53.30 L67.85,53.99 L68.49,54.69 L69.13,55.38 L69.77,56.07 L70.41,56.76 L71.05,57.45 L71.70,58.13 L72.35,58.81 L73.01,59.47 L73.67,60.13 L74.35,60.78 L75.03,61.41 L75.72,62.03 L76.42,62.64 L77.13,63.22 L77.85,63.80 L78.59,64.35 L79.34,64.88 L80.11,65.40 L80.88,65.91 L81.66,66.40 L82.46,66.88 L83.26,67.34 L84.06,67.80 L84.88,68.25 L85.70,68.68 L86.53,69.12 L87.36,69.54 L88.20,69.96 L89.03,70.37 L89.87,70.79 L90.72,71.20 L91.56,71.61 L92.40,72.02 L93.24,72.43 L94.08,72.84 L94.92,73.25 L95.76,73.67 L96.60,74.08 L97.44,74.49 L98.28,74.91 L99.12,75.33 L99.95,75.74 L100.79,76.16 L101.63,76.58 L102.46,77.00 L103.30,77.42 L104.13,77.84 L104.97,78.26 L105.80,78.68 L106.64,79.10 L107.47,79.52 L108.30,79.94 L109.14,80.37 L109.97,80.79 L110.80,81.21 L111.63,81.64 L112.46,82.06 L113.29,82.49 L114.13,82.91 L114.96,83.34 L115.79,83.76 L116.62,84.19 L117.45,84.61 L118.28,85.04 L119.11,85.47 L119.94,85.89 L120.77,86.32 L121.60,86.75 L122.43,87.17 L123.25,87.60 L124.08,88.03 L124.91,88.45 L125.74,88.88 L126.57,89.30 L127.40,89.73 L128.23,90.16 L129.06,90.58 L129.89,91.01 L130.72,91.43 L131.55,91.86 L132.37,92.28 L133.20,92.71 L134.03,93.13 L134.86,93.56 L135.69,93.98 L136.52,94.40 L137.35,94.83 L138.18,95.25 L139.01,95.67 L139.84,96.09 L140.67,96.52 L141.51,96.94 L142.34,97.36 L143.17,97.78 L144.00,98.19 L144.83,98.61 L145.66,99.03 L146.50,99.45 L147.33,99.86 L148.16,100.28 L149.00,100.70 L149.83,101.11 L150.67,101.52 L151.50,101.94 L152.34,102.35 L153.17,102.76 L154.01,103.17 L154.85,103.58 L155.68,103.99 L156.52,104.39 L157.36,104.80 L158.20,105.21 L159.04,105.61 L159.88,106.01 L160.72,106.42 L161.56,106.82 L162.40,107.22 L163.24,107.62 L164.08,108.01 L164.93,108.41 L165.77,108.81 L166.62,109.20 L167.46,109.59 L168.31,109.99 L169.16,110.38 L170.00,110.77 L170.85,111.15 L171.70,111.54 L172.55,111.92 L173.40,112.31 L174.25,112.69 L175.10,113.07 L175.96,113.45 L176.81,113.83 L177.67,114.20 L178.52,114.58 L179.38,114.95 L180.24,115.32 L181.09,115.69 L181.95,116.06 L182.81,116.43 L183.67,116.80 L184.53,117.17 L185.39,117.53 L186.25,117.90 L187.11,118.26 L187.98,118.62 L188.84,118.99 L189.70,119.35 L190.57,119.71 L191.43,120.07 L192.29,120.43 L193.16,120.79 L194.02,121.15 L194.88,121.51 L195.75,121.87 L196.61,122.23 L197.48,122.59 L198.34,122.95 L199.20,123.31 L200.07,123.67 L200.93,124.03 L201.79,124.39 L202.66,124.75 L203.52,125.11 L204.38,125.48 L205.25,125.84 L206.11,126.20 L206.97,126.57 L207.83,126.93 L208.69,127.30 L209.55,127.67 L210.41,128.03 L211.27,128.40 L212.13,128.78 L212.98,129.15 L213.84,129.52 L214.70,129.90 L215.55,130.27 L216.40,130.65 L217.26,131.03 L218.11,131.41 L218.96,131.79 L219.81,132.18 L220.66,132.56 L221.51,132.95 L222.36,133.34 L223.20,133.73 L224.05,134.13 L224.89,134.53 L225.73,134.93 L226.58,135.33 L227.42,135.73 L228.25,136.14 L229.09,136.55 L229.93,136.96 L230.76,137.37 L231.59,137.79 L232.42,138.21 L233.25,138.63 L234.08,139.06 L234.91,139.49 L235.73,139.92 L236.55,140.35 L237.38,140.79 L238.19,141.23 L239.01,141.68 L239.83,142.13 L240.64,142.58 L241.45,143.03 L242.26,143.49 L243.07,143.95 L243.88,144.42 L244.68,144.89 L245.48,145.36 L246.28,145.83 L247.08,146.31 L247.88,146.79 L248.68,147.27 L249.48,147.75 L250.27,148.24 L251.07,148.73 L251.86,149.22 L252.65,149.71 L253.44,150.20 L254.23,150.70 L255.02,151.20 L255.80,151.70 L256.59,152.20 L257.38,152.70 L258.16,153.20 L258.95,153.71 L259.73,154.22 L260.51,154.72 L261.30,155.23 L262.08,155.74 L262.86,156.25 L263.64,156.76 L264.42,157.27 L265.21,157.79 L265.99,158.30 L266.77,158.81 L267.55,159.32 L268.33,159.84 L269.11,160.35 L269.89,160.86 L270.67,161.38 L271.45,161.89 L272.24,162.40 L273.02,162.91 L273.80,163.43 L274.58,163.94 L275.37,164.45 L276.15,164.96 L276.93,165.46 L277.72,165.97 L278.50,166.48 L279.29,166.98 L280.08,167.49 L280.87,167.99 L281.66,168.49 L282.45,168.99 L283.24,169.49 L284.03,169.98 L284.82,170.48 L285.62,170.97 L286.41,171.46 L287.21,171.95 L288.01,172.43 L288.81,172.91 L289.61,173.40 L290.41,173.87 L291.22,174.35 L292.02,174.82 L292.83,175.29 L293.64,175.76 L294.45,176.22 L295.26,176.69 L296.08,177.14 L296.89,177.60 L297.71,178.05 L298.53,178.50 L299.36,178.94 L300.18,179.38 L301.01,179.82 L301.84,180.25 L302.67,180.68 L303.51,181.11 L304.34,181.53 L305.18,181.95 L306.02,182.36 L306.86,182.78 L307.70,183.19 L308.54,183.60 L309.39,184.01 L310.23,184.42 L311.07,184.82 L311.92,185.23 L312.76,185.64 L313.60,186.05 L314.44,186.46 L315.28,186.87 L316.12,187.28 L316.96,187.69 L317.79,188.11 L318.63,188.53 L319.46,188.95 L320.29,189.38 L321.11,189.80 L321.93,190.24 L322.75,190.68 L323.57,191.12 L324.38,191.57 L325.19,192.02 L325.99,192.48 L326.79,192.95 L327.58,193.42 L328.37,193.90 L329.15,194.39 L329.93,194.89 L330.71,195.39 L331.47,195.91 L332.23,196.43 L332.99,196.96 L333.73,197.50 L334.47,198.05 L335.21,198.61 L335.93,199.18 L336.66,199.76 L337.37,200.34 L338.08,200.93 L338.79,201.53 L339.49,202.14 L340.19,202.76 L340.88,203.38 L341.56,204.01 L342.25,204.64 L342.93,205.28 L343.60,205.92 L344.28,206.57 L344.95,207.22 L345.61,207.88 L346.28,208.53 L346.94,209.20 L347.60,209.86 L348.26,210.53 L348.92,211.20 L349.57,211.87 L350.23,212.54 L350.88,213.22 L351.53,213.89 L352.19,214.57 L352.84,215.24 L353.49,215.92 L354.14,216.60 L354.79,217.27 L355.43,217.95 L356.08,218.64 L356.71,219.32 L357.35,220.01 L357.98,220.70 L358.60,221.40 L359.22,222.09 L359.84,222.80 L360.45,223.50 L361.05,224.21 L361.64,224.93 L362.23,225.65 L362.81,226.38 L363.38,227.11 L363.95,227.85 L364.50,228.59" fill="none" stroke="#00B050" stroke-width="1.2" stroke-linejoin="round" stroke-linecap="round"/><path d="M51.60,35.00 L52.10,35.81 L52.61,36.62 L53.12,37.42 L53.64,38.22 L54.17,39.01 L54.70,39.80 L55.25,40.58 L55.79,41.35 L56.35,42.12 L56.91,42.88 L57.47,43.64 L58.05,44.39 L58.63,45.13 L59.21,45.87 L59.81,46.60 L60.41,47.33 L61.01,48.05 L61.62,48.77 L62.24,49.47 L62.87,50.18 L63.50,50.87 L64.13,51.56 L64.77,52.24 L65.42,52.92 L66.08,53.59 L66.74,54.25 L67.40,54.91 L68.07,55.56 L68.75,56.20 L69.43,56.84 L70.12,57.46 L70.82,58.09 L71.52,58.70 L72.22,59.31 L72.94,59.91 L73.65,60.51 L74.38,61.09 L75.10,61.67 L75.84,62.25 L76.57,62.81 L77.32,63.37 L78.07,63.92 L78.82,64.47 L79.58,65.00 L80.35,65.53 L81.12,66.05 L81.89,66.57 L82.67,67.08 L83.45,67.58 L84.24,68.08 L85.03,68.57 L85.82,69.06 L86.62,69.54 L87.43,70.01 L88.23,70.48 L89.04,70.95 L89.86,71.41 L90.67,71.86 L91.49,72.31 L92.32,72.76 L93.14,73.20 L93.97,73.64 L94.80,74.08 L95.63,74.51 L96.47,74.94 L97.31,75.36 L98.15,75.78 L98.99,76.20 L99.83,76.61 L100.68,77.03 L101.52,77.44 L102.37,77.85 L103.22,78.25 L104.07,78.66 L104.92,79.06 L105.78,79.46 L106.63,79.86 L107.48,80.26 L108.34,80.66 L109.19,81.06 L110.05,81.45 L110.90,81.85 L111.76,82.25 L112.61,82.64 L113.47,83.04 L114.32,83.44 L115.17,83.83 L116.03,84.23 L116.88,84.63 L117.73,85.03 L118.58,85.42 L119.43,85.82 L120.28,86.22 L121.13,86.62 L121.98,87.02 L122.83,87.42 L123.68,87.82 L124.53,88.22 L125.38,88.62 L126.23,89.02 L127.08,89.42 L127.92,89.82 L128.77,90.22 L129.62,90.62 L130.47,91.02 L131.31,91.43 L132.16,91.83 L133.01,92.23 L133.86,92.63 L134.70,93.03 L135.55,93.43 L136.40,93.83 L137.24,94.23 L138.09,94.63 L138.94,95.03 L139.78,95.43 L140.63,95.83 L141.48,96.23 L142.32,96.63 L143.17,97.03 L144.02,97.43 L144.87,97.83 L145.71,98.22 L146.56,98.62 L147.41,99.02 L148.26,99.42 L149.11,99.81 L149.95,100.21 L150.80,100.61 L151.65,101.00 L152.50,101.40 L153.35,101.80 L154.20,102.19 L155.05,102.59 L155.90,102.98 L156.75,103.38 L157.60,103.77 L158.45,104.17 L159.30,104.56 L160.15,104.96 L161.00,105.35 L161.85,105.75 L162.70,106.14 L163.55,106.54 L164.40,106.93 L165.25,107.32 L166.10,107.72 L166.95,108.11 L167.80,108.51 L168.65,108.90 L169.50,109.30 L170.35,109.69 L171.20,110.09 L172.06,110.48 L172.91,110.88 L173.76,111.27 L174.61,111.67 L175.46,112.06 L176.31,112.46 L177.16,112.86 L178.01,113.25 L178.86,113.65 L179.71,114.05 L180.56,114.44 L181.41,114.84 L182.26,115.24 L183.11,115.64 L183.95,116.04 L184.80,116.44 L185.65,116.84 L186.50,117.25 L187.34,117.65 L188.19,118.06 L189.03,118.46 L189.88,118.87 L190.72,119.28 L191.56,119.69 L192.41,120.11 L193.25,120.52 L194.09,120.94 L194.92,121.36 L195.76,121.78 L196.60,122.20 L197.43,122.63 L198.27,123.05 L199.10,123.48 L199.93,123.91 L200.76,124.35 L201.59,124.79 L202.42,125.23 L203.25,125.67 L204.07,126.11 L204.89,126.56 L205.72,127.02 L206.54,127.47 L207.35,127.93 L208.17,128.39 L208.98,128.85 L209.80,129.32 L210.61,129.79 L211.42,130.27 L212.23,130.74 L213.03,131.22 L213.84,131.70 L214.64,132.19 L215.45,132.67 L216.25,133.16 L217.05,133.64 L217.85,134.13 L218.65,134.62 L219.45,135.12 L220.25,135.61 L221.05,136.10 L221.85,136.59 L222.65,137.09 L223.44,137.58 L224.24,138.07 L225.04,138.57 L225.84,139.06 L226.64,139.55 L227.44,140.04 L228.24,140.53 L229.04,141.02 L229.84,141.50 L230.64,141.99 L231.45,142.47 L232.25,142.95 L233.06,143.43 L233.86,143.90 L234.67,144.37 L235.48,144.84 L236.29,145.31 L237.11,145.77 L237.92,146.23 L238.74,146.69 L239.55,147.14 L240.37,147.59 L241.20,148.03 L242.02,148.48 L242.85,148.91 L243.67,149.35 L244.50,149.78 L245.33,150.20 L246.17,150.62 L247.00,151.04 L247.84,151.46 L248.68,151.87 L249.52,152.28 L250.36,152.69 L251.20,153.10 L252.04,153.50 L252.89,153.90 L253.73,154.29 L254.58,154.69 L255.43,155.08 L256.28,155.47 L257.13,155.86 L257.98,156.24 L258.84,156.63 L259.69,157.01 L260.55,157.39 L261.40,157.77 L262.26,158.14 L263.12,158.52 L263.98,158.89 L264.84,159.27 L265.70,159.64 L266.56,160.01 L267.42,160.38 L268.28,160.74 L269.15,161.11 L270.01,161.48 L270.87,161.84 L271.74,162.21 L272.60,162.57 L273.47,162.94 L274.33,163.30 L275.20,163.66 L276.07,164.03 L276.93,164.39 L277.80,164.75 L278.67,165.12 L279.53,165.48 L280.40,165.84 L281.26,166.21 L282.13,166.57 L283.00,166.94 L283.86,167.30 L284.73,167.67 L285.59,168.03 L286.46,168.40 L287.32,168.77 L288.19,169.14 L289.05,169.51 L289.92,169.88 L290.78,170.25 L291.64,170.62 L292.51,170.99 L293.37,171.37 L294.23,171.74 L295.09,172.12 L295.95,172.50 L296.81,172.88 L297.66,173.27 L298.52,173.65 L299.38,174.04 L300.23,174.42 L301.09,174.81 L301.94,175.20 L302.79,175.60 L303.64,175.99 L304.49,176.39 L305.34,176.79 L306.19,177.20 L307.04,177.60 L307.88,178.01 L308.72,178.42 L309.57,178.83 L310.41,179.25 L311.24,179.67 L312.08,180.09 L312.92,180.51 L313.75,180.94 L314.58,181.37 L315.42,181.81 L316.24,182.24 L317.07,182.69 L317.90,183.13 L318.72,183.58 L319.54,184.03 L320.36,184.48 L321.18,184.94 L322.00,185.40 L322.81,185.87 L323.62,186.34 L324.43,186.81 L325.24,187.29 L326.04,187.78 L326.85,188.26 L327.65,188.75 L328.44,189.25 L329.24,189.75 L330.03,190.25 L330.82,190.76 L331.61,191.27 L332.40,191.79 L333.18,192.32 L333.96,192.84 L334.74,193.38 L335.51,193.92 L336.28,194.46 L337.05,195.01 L337.81,195.56 L338.57,196.12 L339.33,196.69 L340.08,197.26 L340.83,197.83 L341.57,198.41 L342.30,199.00 L343.03,199.60 L343.76,200.20 L344.48,200.80 L345.19,201.42 L345.90,202.04 L346.59,202.66 L347.29,203.30 L347.97,203.94 L348.65,204.58 L349.32,205.24 L349.98,205.90 L350.63,206.57 L351.27,207.24 L351.91,207.92 L352.54,208.61 L353.15,209.31 L353.76,210.02 L354.36,210.73 L354.95,211.45 L355.52,212.18 L356.09,212.92 L356.64,213.66 L357.19,214.42 L357.72,215.18 L358.24,215.95 L358.75,216.73 L359.25,217.51 L359.74,218.31 L360.21,219.12 L360.67,219.93 L361.11,220.76 L361.55,221.59 L361.97,222.43 L362.37,223.28 L362.76,224.14 L363.14,225.01 L363.50,225.89 L363.85,226.78 L364.18,227.68 L364.50,228.59" fill="none" stroke="#557A45" stroke-width="1.2" stroke-linejoin="round" stroke-linecap="round"/><path d="M51.60,35.00 L51.93,35.85 L52.24,36.73 L52.52,37.62 L52.79,38.53 L53.04,39.45 L53.28,40.38 L53.51,41.33 L53.73,42.28 L53.95,43.23 L54.17,44.19 L54.39,45.15 L54.62,46.11 L54.85,47.06 L55.10,48.00 L55.36,48.93 L55.64,49.86 L55.94,50.76 L56.27,51.65 L56.62,52.53 L56.99,53.38 L57.41,54.21 L57.85,55.01 L58.34,55.78 L58.86,56.52 L59.43,57.23 L60.04,57.91 L60.70,58.55 L61.39,59.17 L62.11,59.76 L62.87,60.32 L63.65,60.86 L64.46,61.38 L65.28,61.88 L66.13,62.36 L66.98,62.83 L67.85,63.28 L68.72,63.73 L69.59,64.17 L70.46,64.60 L71.34,65.02 L72.20,65.44 L73.07,65.86 L73.93,66.28 L74.79,66.70 L75.65,67.11 L76.51,67.53 L77.36,67.95 L78.22,68.37 L79.07,68.80 L79.92,69.22 L80.77,69.65 L81.62,70.09 L82.47,70.52 L83.31,70.96 L84.16,71.40 L85.00,71.84 L85.85,72.29 L86.69,72.73 L87.53,73.18 L88.37,73.62 L89.22,74.07 L90.06,74.52 L90.90,74.97 L91.74,75.42 L92.58,75.87 L93.42,76.32 L94.26,76.76 L95.11,77.21 L95.95,77.66 L96.79,78.11 L97.63,78.55 L98.48,79.00 L99.32,79.44 L100.17,79.88 L101.01,80.32 L101.86,80.75 L102.71,81.19 L103.56,81.62 L104.41,82.05 L105.26,82.48 L106.11,82.90 L106.97,83.32 L107.82,83.74 L108.68,84.15 L109.54,84.56 L110.40,84.96 L111.27,85.36 L112.13,85.76 L113.00,86.15 L113.87,86.54 L114.74,86.92 L115.61,87.30 L116.49,87.67 L117.37,88.04 L118.25,88.40 L119.13,88.76 L120.01,89.12 L120.90,89.47 L121.79,89.81 L122.68,90.16 L123.57,90.50 L124.46,90.84 L125.35,91.17 L126.25,91.51 L127.14,91.84 L128.04,92.16 L128.94,92.49 L129.83,92.81 L130.73,93.14 L131.63,93.46 L132.53,93.78 L133.43,94.09 L134.34,94.41 L135.24,94.73 L136.14,95.05 L137.04,95.36 L137.94,95.68 L138.85,95.99 L139.75,96.31 L140.65,96.63 L141.55,96.95 L142.45,97.26 L143.35,97.58 L144.25,97.90 L145.15,98.23 L146.05,98.55 L146.95,98.88 L147.85,99.21 L148.75,99.53 L149.64,99.86 L150.54,100.20 L151.43,100.53 L152.33,100.86 L153.22,101.20 L154.12,101.54 L155.01,101.87 L155.90,102.21 L156.80,102.55 L157.69,102.89 L158.58,103.24 L159.47,103.58 L160.36,103.92 L161.25,104.27 L162.14,104.61 L163.03,104.96 L163.92,105.30 L164.81,105.65 L165.70,106.00 L166.59,106.35 L167.48,106.69 L168.37,107.04 L169.26,107.39 L170.14,107.74 L171.03,108.09 L171.92,108.44 L172.81,108.79 L173.70,109.14 L174.59,109.49 L175.47,109.83 L176.36,110.18 L177.25,110.53 L178.14,110.88 L179.03,111.23 L179.91,111.58 L180.80,111.92 L181.69,112.27 L182.58,112.62 L183.47,112.96 L184.36,113.31 L185.25,113.66 L186.13,114.00 L187.02,114.35 L187.91,114.69 L188.80,115.04 L189.69,115.38 L190.58,115.73 L191.47,116.07 L192.36,116.42 L193.24,116.76 L194.13,117.11 L195.02,117.45 L195.91,117.80 L196.80,118.14 L197.69,118.48 L198.58,118.83 L199.47,119.17 L200.36,119.51 L201.25,119.86 L202.14,120.20 L203.03,120.54 L203.92,120.89 L204.81,121.23 L205.70,121.57 L206.59,121.91 L207.48,122.26 L208.37,122.60 L209.26,122.94 L210.15,123.28 L211.04,123.63 L211.93,123.97 L212.82,124.31 L213.71,124.65 L214.60,124.99 L215.49,125.34 L216.38,125.68 L217.27,126.02 L218.16,126.36 L219.05,126.70 L219.94,127.04 L220.83,127.39 L221.72,127.73 L222.61,128.07 L223.50,128.41 L224.39,128.75 L225.28,129.09 L226.17,129.44 L227.06,129.78 L227.95,130.12 L228.84,130.46 L229.73,130.80 L230.62,131.14 L231.51,131.49 L232.41,131.83 L233.30,132.17 L234.19,132.51 L235.08,132.85 L235.97,133.20 L236.86,133.54 L237.75,133.88 L238.64,134.22 L239.53,134.57 L240.42,134.91 L241.31,135.25 L242.21,135.59 L243.10,135.94 L243.99,136.28 L244.88,136.62 L245.77,136.97 L246.66,137.31 L247.55,137.65 L248.44,138.00 L249.34,138.34 L250.23,138.69 L251.12,139.03 L252.01,139.38 L252.90,139.72 L253.79,140.07 L254.68,140.41 L255.58,140.76 L256.47,141.10 L257.36,141.45 L258.25,141.79 L259.14,142.14 L260.03,142.49 L260.92,142.85 L261.80,143.20 L262.69,143.56 L263.57,143.92 L264.46,144.28 L265.34,144.65 L266.22,145.02 L267.09,145.39 L267.97,145.77 L268.84,146.15 L269.71,146.54 L270.57,146.93 L271.44,147.33 L272.30,147.73 L273.15,148.14 L274.01,148.56 L274.86,148.98 L275.70,149.41 L276.54,149.85 L277.38,150.29 L278.21,150.75 L279.04,151.21 L279.86,151.68 L280.68,152.15 L281.49,152.64 L282.30,153.14 L283.10,153.64 L283.90,154.16 L284.69,154.69 L285.48,155.22 L286.26,155.77 L287.03,156.33 L287.80,156.90 L288.56,157.47 L289.32,158.06 L290.07,158.65 L290.82,159.25 L291.57,159.86 L292.31,160.46 L293.06,161.07 L293.80,161.68 L294.55,162.30 L295.29,162.91 L296.04,163.52 L296.79,164.12 L297.54,164.73 L298.30,165.32 L299.06,165.91 L299.82,166.50 L300.60,167.08 L301.37,167.64 L302.16,168.20 L302.95,168.74 L303.74,169.28 L304.55,169.80 L305.36,170.32 L306.17,170.83 L306.99,171.33 L307.81,171.82 L308.64,172.31 L309.47,172.79 L310.31,173.26 L311.15,173.73 L311.99,174.20 L312.83,174.66 L313.67,175.12 L314.52,175.58 L315.36,176.03 L316.21,176.49 L317.05,176.94 L317.90,177.39 L318.74,177.85 L319.58,178.31 L320.42,178.76 L321.25,179.23 L322.09,179.69 L322.92,180.16 L323.74,180.63 L324.57,181.11 L325.38,181.60 L326.20,182.09 L327.00,182.58 L327.80,183.09 L328.60,183.60 L329.39,184.13 L330.17,184.66 L330.94,185.20 L331.70,185.76 L332.46,186.32 L333.20,186.90 L333.94,187.49 L334.67,188.09 L335.38,188.70 L336.09,189.33 L336.79,189.97 L337.49,190.62 L338.17,191.27 L338.85,191.94 L339.51,192.62 L340.18,193.31 L340.83,194.00 L341.48,194.70 L342.12,195.41 L342.76,196.13 L343.39,196.85 L344.02,197.58 L344.64,198.31 L345.26,199.05 L345.87,199.80 L346.48,200.54 L347.08,201.29 L347.69,202.05 L348.29,202.80 L348.88,203.56 L349.48,204.32 L350.07,205.08 L350.66,205.84 L351.25,206.60 L351.84,207.36 L352.42,208.12 L353.01,208.88 L353.59,209.65 L354.16,210.41 L354.74,211.17 L355.31,211.94 L355.87,212.71 L356.42,213.49 L356.97,214.26 L357.51,215.05 L358.04,215.83 L358.57,216.63 L359.08,217.42 L359.58,218.23 L360.07,219.04 L360.55,219.86 L361.01,220.69 L361.46,221.53 L361.90,222.37 L362.32,223.23 L362.73,224.09 L363.12,224.97 L363.49,225.86 L363.85,226.76 L364.18,227.67 L364.50,228.59" fill="none" stroke="#D0601E" stroke-width="1.2" stroke-linejoin="round" stroke-linecap="round"/><path d="M51.60,35.00 L52.11,35.82 L52.62,36.63 L53.14,37.44 L53.66,38.24 L54.19,39.04 L54.73,39.83 L55.28,40.61 L55.83,41.38 L56.39,42.15 L56.95,42.92 L57.52,43.67 L58.09,44.43 L58.68,45.17 L59.26,45.91 L59.86,46.64 L60.45,47.37 L61.06,48.09 L61.67,48.81 L62.28,49.52 L62.90,50.23 L63.53,50.93 L64.16,51.62 L64.80,52.31 L65.44,53.00 L66.09,53.68 L66.74,54.35 L67.40,55.02 L68.06,55.68 L68.72,56.34 L69.40,56.99 L70.07,57.64 L70.75,58.29 L71.44,58.93 L72.13,59.56 L72.82,60.19 L73.52,60.82 L74.22,61.44 L74.93,62.05 L75.64,62.66 L76.35,63.27 L77.07,63.88 L77.80,64.47 L78.52,65.07 L79.25,65.66 L79.99,66.25 L80.72,66.83 L81.46,67.41 L82.21,67.98 L82.96,68.55 L83.71,69.12 L84.46,69.68 L85.22,70.24 L85.98,70.80 L86.75,71.35 L87.51,71.90 L88.28,72.44 L89.06,72.98 L89.83,73.52 L90.61,74.06 L91.39,74.59 L92.18,75.12 L92.96,75.64 L93.75,76.17 L94.54,76.69 L95.34,77.20 L96.13,77.72 L96.93,78.23 L97.73,78.74 L98.53,79.24 L99.34,79.75 L100.14,80.25 L100.95,80.74 L101.76,81.24 L102.57,81.73 L103.38,82.22 L104.20,82.71 L105.01,83.20 L105.83,83.68 L106.65,84.16 L107.47,84.64 L108.29,85.12 L109.11,85.60 L109.94,86.07 L110.76,86.54 L111.58,87.01 L112.41,87.48 L113.24,87.95 L114.06,88.41 L114.89,88.87 L115.72,89.34 L116.55,89.80 L117.38,90.26 L118.21,90.71 L119.04,91.17 L119.88,91.62 L120.71,92.08 L121.54,92.53 L122.38,92.98 L123.21,93.42 L124.04,93.87 L124.88,94.32 L125.72,94.76 L126.55,95.20 L127.39,95.64 L128.23,96.08 L129.07,96.52 L129.91,96.95 L130.75,97.39 L131.59,97.82 L132.43,98.25 L133.27,98.68 L134.12,99.11 L134.96,99.54 L135.80,99.96 L136.65,100.39 L137.49,100.81 L138.34,101.23 L139.19,101.65 L140.03,102.06 L140.88,102.48 L141.73,102.89 L142.58,103.31 L143.43,103.72 L144.28,104.13 L145.13,104.54 L145.98,104.94 L146.83,105.35 L147.69,105.75 L148.54,106.16 L149.40,106.56 L150.25,106.96 L151.11,107.35 L151.96,107.75 L152.82,108.14 L153.68,108.54 L154.53,108.93 L155.39,109.32 L156.25,109.71 L157.11,110.10 L157.97,110.48 L158.83,110.87 L159.69,111.25 L160.56,111.63 L161.42,112.01 L162.28,112.39 L163.15,112.77 L164.01,113.14 L164.88,113.52 L165.74,113.89 L166.61,114.26 L167.47,114.63 L168.34,115.00 L169.21,115.36 L170.08,115.73 L170.95,116.09 L171.82,116.45 L172.69,116.81 L173.56,117.17 L174.43,117.53 L175.31,117.89 L176.18,118.24 L177.05,118.60 L177.93,118.95 L178.80,119.30 L179.68,119.65 L180.55,119.99 L181.43,120.34 L182.31,120.69 L183.19,121.03 L184.06,121.37 L184.94,121.71 L185.82,122.05 L186.70,122.39 L187.58,122.72 L188.47,123.06 L189.35,123.39 L190.23,123.72 L191.11,124.05 L192.00,124.38 L192.88,124.71 L193.77,125.03 L194.65,125.36 L195.54,125.68 L196.43,126.00 L197.31,126.32 L198.20,126.64 L199.09,126.96 L199.98,127.27 L200.87,127.59 L201.76,127.90 L202.65,128.21 L203.54,128.52 L204.44,128.83 L205.33,129.14 L206.22,129.44 L207.12,129.75 L208.01,130.05 L208.91,130.35 L209.80,130.65 L210.70,130.95 L211.60,131.25 L212.49,131.54 L213.39,131.84 L214.29,132.13 L215.19,132.42 L216.09,132.72 L216.99,133.01 L217.89,133.30 L218.79,133.59 L219.69,133.88 L220.59,134.16 L221.49,134.45 L222.39,134.74 L223.29,135.03 L224.19,135.31 L225.09,135.60 L225.99,135.88 L226.90,136.17 L227.80,136.46 L228.70,136.74 L229.60,137.03 L230.50,137.31 L231.40,137.60 L232.31,137.88 L233.21,138.17 L234.11,138.46 L235.01,138.74 L235.91,139.03 L236.81,139.32 L237.71,139.61 L238.61,139.89 L239.51,140.18 L240.41,140.47 L241.31,140.76 L242.21,141.06 L243.11,141.35 L244.01,141.64 L244.91,141.94 L245.81,142.23 L246.70,142.53 L247.60,142.83 L248.50,143.13 L249.39,143.43 L250.29,143.73 L251.18,144.04 L252.07,144.34 L252.97,144.65 L253.86,144.96 L254.75,145.27 L255.64,145.58 L256.53,145.89 L257.42,146.21 L258.31,146.53 L259.20,146.85 L260.08,147.17 L260.97,147.49 L261.85,147.82 L262.74,148.15 L263.62,148.48 L264.50,148.82 L265.38,149.15 L266.26,149.49 L267.14,149.83 L268.02,150.18 L268.90,150.52 L269.77,150.87 L270.65,151.22 L271.52,151.58 L272.39,151.94 L273.26,152.30 L274.13,152.66 L275.00,153.03 L275.87,153.40 L276.73,153.77 L277.60,154.15 L278.46,154.53 L279.33,154.91 L280.19,155.30 L281.05,155.68 L281.90,156.07 L282.76,156.47 L283.62,156.86 L284.47,157.26 L285.33,157.67 L286.18,158.07 L287.03,158.48 L287.88,158.89 L288.73,159.30 L289.58,159.72 L290.42,160.14 L291.27,160.56 L292.11,160.99 L292.95,161.42 L293.79,161.85 L294.63,162.28 L295.47,162.72 L296.31,163.16 L297.14,163.60 L297.98,164.05 L298.81,164.49 L299.64,164.95 L300.48,165.40 L301.30,165.86 L302.13,166.32 L302.96,166.78 L303.79,167.24 L304.61,167.71 L305.43,168.18 L306.25,168.66 L307.07,169.14 L307.89,169.62 L308.71,170.10 L309.52,170.59 L310.33,171.08 L311.14,171.57 L311.95,172.07 L312.76,172.57 L313.56,173.07 L314.36,173.58 L315.16,174.09 L315.96,174.61 L316.75,175.13 L317.54,175.65 L318.33,176.17 L319.12,176.70 L319.90,177.24 L320.68,177.77 L321.46,178.32 L322.23,178.86 L323.00,179.41 L323.77,179.96 L324.53,180.52 L325.30,181.08 L326.05,181.65 L326.81,182.22 L327.56,182.80 L328.31,183.38 L329.05,183.96 L329.79,184.55 L330.53,185.14 L331.26,185.74 L331.99,186.34 L332.71,186.95 L333.43,187.56 L334.15,188.17 L334.86,188.80 L335.57,189.42 L336.27,190.05 L336.97,190.69 L337.66,191.33 L338.35,191.97 L339.04,192.62 L339.72,193.28 L340.39,193.94 L341.06,194.60 L341.73,195.27 L342.39,195.94 L343.04,196.62 L343.69,197.30 L344.33,197.99 L344.97,198.69 L345.61,199.38 L346.23,200.09 L346.85,200.79 L347.47,201.51 L348.08,202.22 L348.69,202.94 L349.29,203.67 L349.88,204.40 L350.47,205.14 L351.05,205.88 L351.62,206.63 L352.19,207.38 L352.75,208.13 L353.31,208.89 L353.85,209.66 L354.40,210.43 L354.93,211.20 L355.46,211.98 L355.98,212.77 L356.50,213.56 L357.00,214.35 L357.51,215.15 L358.00,215.95 L358.49,216.76 L358.97,217.58 L359.44,218.39 L359.90,219.22 L360.36,220.05 L360.81,220.88 L361.25,221.72 L361.68,222.56 L362.11,223.41 L362.53,224.26 L362.94,225.12 L363.34,225.98 L363.74,226.85 L364.12,227.72 L364.50,228.59" fill="none" stroke="#C89A1A" stroke-width="1.2" stroke-linejoin="round" stroke-linecap="round"/><path d="M51.60,35.00 L51.87,35.93 L52.16,36.86 L52.47,37.77 L52.79,38.68 L53.13,39.58 L53.48,40.46 L53.85,41.34 L54.23,42.22 L54.63,43.08 L55.03,43.94 L55.45,44.79 L55.89,45.63 L56.33,46.46 L56.79,47.29 L57.26,48.11 L57.74,48.93 L58.22,49.74 L58.72,50.55 L59.23,51.35 L59.74,52.14 L60.27,52.93 L60.80,53.72 L61.34,54.50 L61.89,55.28 L62.44,56.05 L63.00,56.82 L63.57,57.59 L64.14,58.35 L64.71,59.11 L65.29,59.87 L65.87,60.63 L66.46,61.38 L67.05,62.14 L67.64,62.89 L68.24,63.64 L68.84,64.39 L69.43,65.14 L70.03,65.89 L70.63,66.64 L71.23,67.39 L71.83,68.14 L72.43,68.88 L73.04,69.63 L73.64,70.37 L74.25,71.11 L74.86,71.85 L75.48,72.58 L76.10,73.31 L76.72,74.03 L77.35,74.75 L77.99,75.46 L78.63,76.16 L79.28,76.86 L79.93,77.54 L80.59,78.22 L81.26,78.90 L81.94,79.56 L82.63,80.21 L83.33,80.85 L84.03,81.48 L84.75,82.09 L85.48,82.70 L86.21,83.29 L86.96,83.87 L87.72,84.44 L88.48,85.00 L89.26,85.55 L90.04,86.09 L90.83,86.62 L91.62,87.14 L92.43,87.65 L93.24,88.15 L94.05,88.64 L94.87,89.13 L95.69,89.61 L96.52,90.08 L97.35,90.55 L98.18,91.02 L99.01,91.49 L99.85,91.95 L100.68,92.41 L101.52,92.87 L102.35,93.34 L103.19,93.80 L104.02,94.27 L104.84,94.74 L105.67,95.22 L106.49,95.70 L107.31,96.19 L108.12,96.67 L108.94,97.17 L109.75,97.66 L110.56,98.14 L111.37,98.63 L112.19,99.11 L113.01,99.59 L113.83,100.06 L114.66,100.52 L115.49,100.97 L116.32,101.41 L117.17,101.84 L118.01,102.27 L118.86,102.68 L119.71,103.09 L120.57,103.49 L121.44,103.89 L122.30,104.27 L123.17,104.65 L124.04,105.02 L124.92,105.39 L125.80,105.75 L126.68,106.11 L127.56,106.46 L128.45,106.81 L129.34,107.15 L130.23,107.49 L131.12,107.82 L132.02,108.15 L132.92,108.48 L133.82,108.80 L134.72,109.12 L135.62,109.44 L136.52,109.76 L137.42,110.07 L138.33,110.39 L139.23,110.70 L140.13,111.01 L141.04,111.32 L141.94,111.63 L142.85,111.95 L143.75,112.26 L144.66,112.57 L145.56,112.88 L146.46,113.20 L147.37,113.51 L148.27,113.83 L149.17,114.15 L150.07,114.46 L150.97,114.78 L151.87,115.10 L152.77,115.42 L153.67,115.74 L154.56,116.06 L155.46,116.37 L156.36,116.69 L157.26,117.01 L158.16,117.33 L159.06,117.64 L159.96,117.96 L160.86,118.27 L161.76,118.58 L162.66,118.89 L163.56,119.20 L164.46,119.51 L165.36,119.82 L166.26,120.12 L167.17,120.43 L168.07,120.73 L168.97,121.03 L169.88,121.32 L170.79,121.62 L171.69,121.91 L172.60,122.19 L173.51,122.48 L174.42,122.76 L175.33,123.04 L176.25,123.31 L177.16,123.59 L178.08,123.85 L178.99,124.12 L179.91,124.38 L180.83,124.64 L181.75,124.90 L182.67,125.16 L183.59,125.41 L184.51,125.66 L185.43,125.92 L186.35,126.17 L187.27,126.42 L188.20,126.67 L189.12,126.92 L190.04,127.17 L190.96,127.43 L191.88,127.68 L192.80,127.94 L193.72,128.19 L194.64,128.45 L195.55,128.72 L196.47,128.98 L197.38,129.25 L198.30,129.52 L199.21,129.80 L200.12,130.08 L201.02,130.36 L201.93,130.65 L202.83,130.94 L203.74,131.24 L204.64,131.55 L205.53,131.86 L206.43,132.17 L207.32,132.50 L208.21,132.83 L209.10,133.16 L209.98,133.51 L210.86,133.86 L211.74,134.22 L212.62,134.58 L213.49,134.95 L214.36,135.32 L215.23,135.70 L216.10,136.08 L216.97,136.47 L217.83,136.86 L218.70,137.26 L219.56,137.66 L220.42,138.06 L221.28,138.47 L222.14,138.87 L223.00,139.28 L223.86,139.69 L224.72,140.11 L225.58,140.52 L226.44,140.93 L227.29,141.35 L228.15,141.76 L229.01,142.18 L229.87,142.59 L230.73,143.00 L231.59,143.42 L232.46,143.83 L233.32,144.23 L234.19,144.64 L235.05,145.04 L235.92,145.44 L236.79,145.84 L237.66,146.23 L238.54,146.62 L239.41,147.01 L240.29,147.39 L241.17,147.77 L242.05,148.14 L242.94,148.51 L243.82,148.88 L244.71,149.24 L245.60,149.60 L246.49,149.95 L247.38,150.31 L248.27,150.66 L249.16,151.01 L250.05,151.36 L250.94,151.71 L251.83,152.05 L252.72,152.40 L253.62,152.74 L254.51,153.08 L255.40,153.43 L256.29,153.77 L257.18,154.11 L258.06,154.45 L258.95,154.80 L259.83,155.14 L260.72,155.49 L261.60,155.83 L262.49,156.17 L263.37,156.52 L264.25,156.86 L265.13,157.21 L266.01,157.56 L266.89,157.90 L267.77,158.25 L268.65,158.60 L269.52,158.95 L270.40,159.30 L271.27,159.65 L272.15,160.01 L273.02,160.36 L273.90,160.71 L274.77,161.07 L275.64,161.43 L276.51,161.78 L277.38,162.14 L278.26,162.50 L279.13,162.86 L280.00,163.23 L280.87,163.59 L281.73,163.96 L282.60,164.33 L283.47,164.69 L284.34,165.07 L285.21,165.44 L286.07,165.81 L286.94,166.19 L287.81,166.57 L288.67,166.94 L289.54,167.33 L290.41,167.71 L291.27,168.10 L292.14,168.48 L293.00,168.87 L293.87,169.26 L294.73,169.66 L295.60,170.05 L296.46,170.45 L297.33,170.85 L298.19,171.26 L299.06,171.66 L299.92,172.07 L300.79,172.48 L301.65,172.89 L302.52,173.31 L303.38,173.73 L304.24,174.15 L305.11,174.57 L305.97,175.00 L306.84,175.43 L307.70,175.86 L308.56,176.30 L309.42,176.74 L310.28,177.18 L311.14,177.63 L312.00,178.07 L312.85,178.53 L313.71,178.98 L314.56,179.44 L315.41,179.90 L316.26,180.37 L317.11,180.84 L317.95,181.31 L318.79,181.79 L319.63,182.27 L320.47,182.76 L321.30,183.25 L322.14,183.74 L322.97,184.24 L323.79,184.74 L324.61,185.25 L325.43,185.76 L326.25,186.28 L327.06,186.80 L327.87,187.32 L328.67,187.85 L329.47,188.38 L330.27,188.92 L331.06,189.46 L331.85,190.01 L332.64,190.56 L333.41,191.12 L334.19,191.69 L334.96,192.25 L335.72,192.83 L336.48,193.41 L337.24,193.99 L337.99,194.58 L338.73,195.17 L339.47,195.77 L340.20,196.38 L340.93,196.99 L341.65,197.61 L342.36,198.23 L343.07,198.86 L343.77,199.49 L344.47,200.13 L345.15,200.78 L345.84,201.43 L346.51,202.09 L347.18,202.75 L347.84,203.43 L348.49,204.10 L349.14,204.79 L349.78,205.48 L350.41,206.17 L351.04,206.88 L351.65,207.59 L352.26,208.30 L352.86,209.03 L353.45,209.76 L354.03,210.50 L354.61,211.24 L355.18,211.99 L355.73,212.75 L356.28,213.52 L356.82,214.29 L357.35,215.07 L357.87,215.86 L358.38,216.65 L358.89,217.45 L359.38,218.26 L359.86,219.08 L360.34,219.91 L360.80,220.74 L361.25,221.58 L361.70,222.43 L362.13,223.28 L362.55,224.15 L362.96,225.02 L363.36,225.90 L363.75,226.79 L364.13,227.69 L364.50,228.59" fill="none" stroke="#1A1A1A" stroke-width="1.2" stroke-linejoin="round" stroke-linecap="round"/><path d="M51.60,35.00 L52.02,35.84 L52.43,36.68 L52.85,37.52 L53.27,38.36 L53.70,39.21 L54.12,40.06 L54.55,40.90 L54.99,41.75 L55.42,42.59 L55.86,43.44 L56.31,44.28 L56.76,45.13 L57.21,45.97 L57.67,46.81 L58.13,47.64 L58.60,48.48 L59.07,49.31 L59.55,50.14 L60.03,50.96 L60.52,51.78 L61.02,52.60 L61.52,53.41 L62.04,54.21 L62.55,55.01 L63.08,55.81 L63.61,56.60 L64.15,57.38 L64.70,58.16 L65.26,58.92 L65.82,59.68 L66.40,60.44 L66.98,61.18 L67.58,61.92 L68.18,62.65 L68.79,63.37 L69.41,64.08 L70.05,64.77 L70.69,65.46 L71.34,66.14 L72.01,66.81 L72.68,67.47 L73.36,68.12 L74.06,68.76 L74.76,69.40 L75.46,70.02 L76.18,70.64 L76.90,71.25 L77.64,71.85 L78.37,72.44 L79.12,73.03 L79.87,73.61 L80.62,74.19 L81.38,74.76 L82.15,75.32 L82.92,75.88 L83.70,76.43 L84.47,76.98 L85.26,77.53 L86.04,78.07 L86.83,78.60 L87.62,79.14 L88.41,79.67 L89.21,80.19 L90.00,80.72 L90.80,81.24 L91.60,81.76 L92.40,82.28 L93.20,82.79 L93.99,83.31 L94.79,83.82 L95.59,84.34 L96.39,84.85 L97.18,85.36 L97.98,85.88 L98.77,86.39 L99.57,86.90 L100.36,87.42 L101.15,87.93 L101.94,88.45 L102.73,88.97 L103.52,89.49 L104.31,90.02 L105.09,90.54 L105.88,91.07 L106.66,91.60 L107.44,92.13 L108.22,92.67 L109.00,93.21 L109.77,93.74 L110.55,94.28 L111.33,94.82 L112.11,95.35 L112.89,95.89 L113.67,96.42 L114.46,96.96 L115.24,97.49 L116.03,98.01 L116.83,98.53 L117.62,99.05 L118.42,99.57 L119.22,100.08 L120.02,100.59 L120.82,101.09 L121.63,101.59 L122.44,102.09 L123.25,102.58 L124.07,103.06 L124.89,103.54 L125.71,104.01 L126.53,104.48 L127.36,104.94 L128.19,105.39 L129.02,105.84 L129.86,106.28 L130.70,106.71 L131.54,107.14 L132.39,107.56 L133.24,107.98 L134.09,108.39 L134.94,108.79 L135.80,109.19 L136.65,109.59 L137.52,109.97 L138.38,110.36 L139.24,110.74 L140.11,111.11 L140.98,111.48 L141.85,111.84 L142.73,112.20 L143.61,112.55 L144.48,112.90 L145.36,113.25 L146.25,113.59 L147.13,113.93 L148.02,114.26 L148.90,114.59 L149.79,114.91 L150.68,115.24 L151.58,115.56 L152.47,115.87 L153.37,116.18 L154.26,116.49 L155.16,116.80 L156.06,117.10 L156.96,117.41 L157.86,117.70 L158.76,118.00 L159.67,118.29 L160.57,118.59 L161.48,118.88 L162.38,119.16 L163.29,119.45 L164.20,119.73 L165.11,120.02 L166.01,120.30 L166.92,120.58 L167.83,120.86 L168.74,121.13 L169.66,121.41 L170.57,121.69 L171.48,121.96 L172.39,122.23 L173.30,122.51 L174.22,122.78 L175.13,123.05 L176.04,123.33 L176.95,123.60 L177.87,123.87 L178.78,124.14 L179.69,124.42 L180.60,124.69 L181.52,124.96 L182.43,125.24 L183.34,125.51 L184.25,125.79 L185.16,126.06 L186.07,126.34 L186.98,126.62 L187.89,126.90 L188.80,127.18 L189.71,127.46 L190.62,127.74 L191.52,128.03 L192.43,128.32 L193.33,128.61 L194.24,128.90 L195.14,129.19 L196.04,129.49 L196.94,129.78 L197.84,130.08 L198.74,130.39 L199.64,130.69 L200.54,131.00 L201.43,131.31 L202.33,131.63 L203.22,131.94 L204.11,132.26 L205.00,132.59 L205.89,132.91 L206.78,133.25 L207.66,133.58 L208.55,133.92 L209.43,134.26 L210.31,134.61 L211.19,134.96 L212.06,135.31 L212.94,135.67 L213.81,136.03 L214.68,136.40 L215.55,136.78 L216.42,137.15 L217.28,137.54 L218.14,137.92 L219.00,138.32 L219.86,138.71 L220.72,139.12 L221.57,139.52 L222.42,139.94 L223.27,140.35 L224.12,140.77 L224.97,141.20 L225.81,141.63 L226.66,142.06 L227.50,142.49 L228.34,142.93 L229.18,143.37 L230.02,143.81 L230.86,144.25 L231.70,144.69 L232.54,145.14 L233.38,145.58 L234.22,146.02 L235.06,146.47 L235.90,146.91 L236.75,147.35 L237.59,147.79 L238.43,148.23 L239.28,148.67 L240.12,149.10 L240.97,149.54 L241.82,149.97 L242.67,150.40 L243.52,150.82 L244.37,151.25 L245.22,151.67 L246.08,152.10 L246.93,152.52 L247.78,152.94 L248.64,153.36 L249.49,153.78 L250.35,154.20 L251.20,154.62 L252.06,155.04 L252.91,155.46 L253.77,155.88 L254.62,156.30 L255.48,156.72 L256.33,157.15 L257.18,157.57 L258.04,157.99 L258.89,158.42 L259.74,158.84 L260.59,159.27 L261.44,159.70 L262.29,160.13 L263.13,160.56 L263.98,161.00 L264.82,161.43 L265.66,161.87 L266.51,162.31 L267.34,162.76 L268.18,163.21 L269.02,163.66 L269.85,164.11 L270.68,164.57 L271.51,165.03 L272.34,165.49 L273.16,165.96 L273.98,166.43 L274.80,166.91 L275.62,167.38 L276.44,167.87 L277.25,168.35 L278.06,168.84 L278.87,169.33 L279.68,169.82 L280.49,170.32 L281.29,170.82 L282.09,171.32 L282.89,171.83 L283.69,172.34 L284.49,172.85 L285.28,173.37 L286.08,173.88 L286.87,174.40 L287.66,174.93 L288.45,175.45 L289.23,175.98 L290.02,176.51 L290.80,177.04 L291.58,177.58 L292.36,178.11 L293.14,178.65 L293.92,179.19 L294.70,179.74 L295.47,180.28 L296.25,180.83 L297.02,181.38 L297.79,181.93 L298.56,182.49 L299.33,183.04 L300.10,183.60 L300.86,184.16 L301.63,184.72 L302.39,185.28 L303.16,185.84 L303.92,186.41 L304.68,186.97 L305.44,187.54 L306.20,188.11 L306.96,188.68 L307.72,189.25 L308.48,189.82 L309.24,190.40 L309.99,190.97 L310.75,191.55 L311.50,192.12 L312.26,192.70 L313.01,193.28 L313.77,193.86 L314.52,194.44 L315.27,195.02 L316.02,195.60 L316.77,196.18 L317.53,196.76 L318.28,197.35 L319.03,197.93 L319.78,198.51 L320.53,199.10 L321.28,199.68 L322.03,200.26 L322.78,200.85 L323.53,201.43 L324.27,202.02 L325.02,202.60 L325.77,203.19 L326.52,203.77 L327.27,204.35 L328.02,204.94 L328.77,205.52 L329.52,206.11 L330.27,206.69 L331.02,207.27 L331.77,207.85 L332.52,208.43 L333.27,209.01 L334.03,209.59 L334.78,210.17 L335.53,210.75 L336.28,211.33 L337.03,211.91 L337.79,212.49 L338.54,213.07 L339.29,213.64 L340.04,214.22 L340.79,214.80 L341.54,215.38 L342.29,215.97 L343.04,216.55 L343.78,217.13 L344.53,217.71 L345.28,218.30 L346.02,218.89 L346.76,219.48 L347.50,220.07 L348.24,220.66 L348.98,221.26 L349.71,221.86 L350.44,222.46 L351.17,223.06 L351.90,223.66 L352.63,224.27 L353.35,224.88 L354.07,225.50 L354.79,226.12 L355.51,226.74 L356.22,227.36 L356.93,227.99 L357.64,228.62 L358.34,229.26 L359.04,229.90 L359.73,230.55 L360.43,231.20 L361.12,231.85 L361.80,232.51 L362.48,233.18 L363.16,233.85 L363.83,234.52 L364.50,235.20" fill="none" stroke="#FF0000" stroke-width="2.25" stroke-linejoin="round" stroke-linecap="round"/>
<path d="M52.50,307.60 L52.92,308.58 L53.37,309.55 L53.82,310.50 L54.30,311.45 L54.79,312.38 L55.30,313.29 L55.83,314.19 L56.37,315.08 L56.93,315.96 L57.51,316.82 L58.10,317.67 L58.70,318.50 L59.32,319.32 L59.96,320.12 L60.61,320.92 L61.27,321.69 L61.95,322.46 L62.64,323.21 L63.34,323.94 L64.06,324.66 L64.79,325.37 L65.54,326.06 L66.29,326.73 L67.06,327.40 L67.84,328.04 L68.63,328.68 L69.43,329.29 L70.24,329.89 L71.06,330.48 L71.90,331.05 L72.74,331.61 L73.59,332.15 L74.46,332.68 L75.33,333.19 L76.21,333.69 L77.10,334.17 L78.00,334.65 L78.90,335.11 L79.81,335.56 L80.73,336.00 L81.65,336.43 L82.59,336.85 L83.52,337.26 L84.46,337.66 L85.41,338.05 L86.36,338.44 L87.31,338.82 L88.27,339.19 L89.23,339.56 L90.19,339.92 L91.16,340.27 L92.12,340.62 L93.09,340.97 L94.06,341.32 L95.03,341.66 L96.01,342.00 L96.98,342.33 L97.95,342.67 L98.92,343.00 L99.90,343.33 L100.87,343.65 L101.85,343.98 L102.83,344.30 L103.80,344.62 L104.78,344.93 L105.76,345.25 L106.74,345.56 L107.72,345.87 L108.70,346.17 L109.68,346.48 L110.66,346.78 L111.64,347.08 L112.62,347.38 L113.60,347.67 L114.59,347.97 L115.57,348.26 L116.55,348.55 L117.54,348.84 L118.52,349.12 L119.51,349.41 L120.50,349.69 L121.48,349.97 L122.47,350.25 L123.46,350.53 L124.45,350.80 L125.43,351.08 L126.42,351.35 L127.41,351.62 L128.40,351.89 L129.39,352.15 L130.38,352.42 L131.37,352.68 L132.37,352.95 L133.36,353.21 L134.35,353.47 L135.34,353.73 L136.34,353.98 L137.33,354.24 L138.32,354.49 L139.32,354.75 L140.31,355.00 L141.30,355.25 L142.30,355.50 L143.29,355.75 L144.29,356.00 L145.29,356.24 L146.28,356.49 L147.28,356.73 L148.27,356.98 L149.27,357.22 L150.27,357.46 L151.26,357.71 L152.26,357.95 L153.26,358.19 L154.26,358.42 L155.26,358.66 L156.25,358.90 L157.25,359.14 L158.25,359.37 L159.25,359.61 L160.25,359.85 L161.25,360.08 L162.25,360.32 L163.24,360.55 L164.24,360.78 L165.24,361.02 L166.24,361.25 L167.24,361.48 L168.24,361.72 L169.24,361.95 L170.24,362.18 L171.24,362.41 L172.24,362.64 L173.24,362.88 L174.24,363.11 L175.24,363.34 L176.24,363.57 L177.24,363.80 L178.24,364.03 L179.24,364.27 L180.24,364.50 L181.24,364.73 L182.24,364.96 L183.24,365.20 L184.24,365.43 L185.24,365.66 L186.24,365.90 L187.24,366.13 L188.24,366.36 L189.24,366.60 L190.23,366.84 L191.23,367.07 L192.23,367.31 L193.23,367.55 L194.23,367.78 L195.23,368.02 L196.23,368.26 L197.22,368.50 L198.22,368.74 L199.22,368.98 L200.22,369.22 L201.22,369.47 L202.21,369.71 L203.21,369.96 L204.21,370.20 L205.20,370.45 L206.20,370.70 L207.19,370.95 L208.19,371.20 L209.19,371.45 L210.18,371.70 L211.18,371.95 L212.17,372.21 L213.16,372.46 L214.16,372.72 L215.15,372.98 L216.14,373.24 L217.14,373.50 L218.13,373.76 L219.12,374.03 L220.11,374.29 L221.11,374.56 L222.10,374.83 L223.09,375.09 L224.08,375.36 L225.07,375.63 L226.06,375.90 L227.05,376.17 L228.04,376.44 L229.03,376.71 L230.03,376.98 L231.02,377.24 L232.01,377.51 L233.00,377.78 L233.99,378.04 L234.98,378.31 L235.97,378.57 L236.97,378.84 L237.96,379.10 L238.95,379.36 L239.94,379.62 L240.94,379.87 L241.93,380.13 L242.93,380.38 L243.92,380.63 L244.92,380.88 L245.91,381.12 L246.91,381.36 L247.91,381.60 L248.91,381.84 L249.90,382.07 L250.90,382.30 L251.90,382.53 L252.90,382.75 L253.91,382.98 L254.91,383.20 L255.91,383.42 L256.91,383.63 L257.91,383.85 L258.92,384.06 L259.92,384.28 L260.92,384.49 L261.92,384.70 L262.92,384.92 L263.92,385.13 L264.92,385.35 L265.92,385.57 L266.92,385.78 L267.92,386.01 L268.92,386.23 L269.91,386.45 L270.91,386.68 L271.90,386.91 L272.90,387.15 L273.89,387.38 L274.88,387.62 L275.86,387.87 L276.85,388.12 L277.84,388.38 L278.82,388.64 L279.80,388.90 L280.78,389.18 L281.76,389.45 L282.73,389.74 L283.70,390.03 L284.68,390.33 L285.64,390.63 L286.61,390.94 L287.58,391.25 L288.54,391.57 L289.50,391.89 L290.46,392.22 L291.43,392.56 L292.38,392.89 L293.34,393.24 L294.30,393.58 L295.26,393.93 L296.22,394.28 L297.18,394.63 L298.13,394.99 L299.09,395.35 L300.05,395.71 L301.01,396.08 L301.97,396.44 L302.93,396.81 L303.89,397.18 L304.85,397.54 L305.81,397.91 L306.78,398.28 L307.74,398.65 L308.71,399.02 L309.68,399.39 L310.65,399.76 L311.62,400.13 L312.60,400.49 L313.58,400.86 L314.56,401.22 L315.54,401.59 L316.52,401.95 L317.50,402.32 L318.48,402.69 L319.46,403.05 L320.44,403.43 L321.42,403.80 L322.40,404.18 L323.38,404.56 L324.35,404.94 L325.32,405.33 L326.29,405.72 L327.26,406.12 L328.22,406.52 L329.17,406.93 L330.12,407.35 L331.07,407.77 L332.01,408.20 L332.95,408.64 L333.88,409.09 L334.80,409.55 L335.72,410.01 L336.63,410.48 L337.53,410.97 L338.42,411.46 L339.30,411.97 L340.18,412.48 L341.04,413.01 L341.90,413.55 L342.75,414.11 L343.58,414.67 L344.41,415.25 L345.22,415.85 L346.02,416.45 L346.81,417.07 L347.59,417.71 L348.36,418.35 L349.12,419.01 L349.87,419.68 L350.60,420.37 L351.32,421.06 L352.03,421.77 L352.73,422.49 L353.42,423.22 L354.10,423.96 L354.76,424.72 L355.41,425.48 L356.05,426.26 L356.68,427.04 L357.29,427.84 L357.90,428.65 L358.49,429.47 L359.07,430.29 L359.63,431.13 L360.19,431.98 L360.73,432.83 L361.26,433.70 L361.78,434.57 L362.28,435.46 L362.77,436.35 L363.25,437.25 L363.71,438.16 L364.17,439.07 L364.61,440.00 L365.03,440.93 L365.45,441.87 L365.85,442.81 L366.24,443.77 L366.62,444.73 L366.99,445.69 L367.35,446.66 L367.70,447.64 L368.04,448.62 L368.37,449.60 L368.70,450.59 L369.01,451.59 L369.32,452.58 L369.62,453.58 L369.92,454.58 L370.20,455.59 L370.49,456.59 L370.77,457.60 L371.04,458.61 L371.31,459.62 L371.57,460.63 L371.84,461.64 L372.09,462.65 L372.35,463.66 L372.60,464.67 L372.86,465.68 L373.11,466.69 L373.36,467.70 L373.60,468.71 L373.85,469.72 L374.10,470.73 L374.34,471.73 L374.59,472.74 L374.83,473.74 L375.08,474.75 L375.33,475.75 L375.57,476.75 L375.82,477.75 L376.08,478.75 L376.33,479.75 L376.59,480.74 L376.85,481.73 L377.11,482.73 L377.37,483.71 L377.64,484.70 L377.92,485.69 L378.19,486.67 L378.47,487.65 L378.76,488.63 L379.05,489.61 L379.35,490.58 L379.65,491.55 L379.96,492.52 L380.27,493.48 L380.59,494.45 L380.92,495.41 L381.26,496.36 L381.60,497.32" fill="none" stroke="#ED7D31" stroke-width="1.2" stroke-linejoin="round" stroke-linecap="round"/><path d="M52.50,307.60 L52.96,308.45 L53.44,309.31 L53.92,310.17 L54.42,311.03 L54.92,311.89 L55.44,312.75 L55.98,313.61 L56.52,314.47 L57.07,315.33 L57.64,316.18 L58.22,317.03 L58.81,317.88 L59.41,318.71 L60.02,319.55 L60.65,320.37 L61.29,321.19 L61.94,321.99 L62.60,322.79 L63.27,323.58 L63.96,324.35 L64.66,325.11 L65.37,325.86 L66.09,326.59 L66.82,327.31 L67.57,328.01 L68.33,328.69 L69.10,329.36 L69.89,330.01 L70.68,330.64 L71.49,331.24 L72.32,331.83 L73.15,332.40 L74.00,332.94 L74.85,333.46 L75.72,333.97 L76.60,334.45 L77.49,334.92 L78.39,335.37 L79.29,335.81 L80.21,336.23 L81.13,336.64 L82.06,337.04 L83.00,337.42 L83.94,337.79 L84.89,338.15 L85.84,338.50 L86.80,338.85 L87.76,339.18 L88.73,339.51 L89.69,339.84 L90.66,340.16 L91.64,340.47 L92.61,340.78 L93.58,341.09 L94.56,341.40 L95.53,341.71 L96.51,342.02 L97.48,342.32 L98.45,342.63 L99.43,342.94 L100.40,343.24 L101.37,343.54 L102.35,343.85 L103.32,344.15 L104.30,344.45 L105.27,344.75 L106.24,345.05 L107.22,345.35 L108.19,345.64 L109.16,345.94 L110.14,346.24 L111.11,346.53 L112.08,346.83 L113.06,347.12 L114.03,347.41 L115.00,347.70 L115.98,347.99 L116.95,348.28 L117.92,348.57 L118.90,348.86 L119.87,349.15 L120.84,349.44 L121.82,349.72 L122.79,350.01 L123.77,350.29 L124.74,350.57 L125.71,350.85 L126.69,351.13 L127.66,351.41 L128.64,351.69 L129.61,351.97 L130.59,352.25 L131.56,352.52 L132.54,352.80 L133.51,353.07 L134.49,353.34 L135.46,353.61 L136.44,353.88 L137.41,354.15 L138.39,354.42 L139.37,354.69 L140.34,354.96 L141.32,355.22 L142.29,355.49 L143.27,355.75 L144.25,356.01 L145.23,356.27 L146.20,356.53 L147.18,356.79 L148.16,357.05 L149.14,357.30 L150.12,357.56 L151.10,357.81 L152.08,358.07 L153.06,358.32 L154.04,358.57 L155.02,358.82 L156.00,359.06 L156.98,359.31 L157.96,359.56 L158.94,359.80 L159.92,360.05 L160.90,360.29 L161.89,360.53 L162.87,360.77 L163.85,361.01 L164.84,361.24 L165.82,361.48 L166.80,361.71 L167.79,361.95 L168.77,362.18 L169.76,362.41 L170.75,362.64 L171.73,362.87 L172.72,363.09 L173.71,363.32 L174.69,363.54 L175.68,363.76 L176.67,363.99 L177.66,364.21 L178.65,364.42 L179.64,364.64 L180.63,364.86 L181.62,365.07 L182.61,365.29 L183.60,365.50 L184.60,365.71 L185.59,365.92 L186.58,366.12 L187.58,366.33 L188.57,366.53 L189.56,366.74 L190.56,366.94 L191.56,367.14 L192.55,367.34 L193.55,367.53 L194.55,367.73 L195.55,367.92 L196.54,368.12 L197.54,368.31 L198.54,368.50 L199.54,368.69 L200.55,368.87 L201.55,369.06 L202.55,369.24 L203.55,369.42 L204.56,369.60 L205.56,369.78 L206.57,369.96 L207.57,370.14 L208.58,370.31 L209.58,370.48 L210.59,370.65 L211.60,370.82 L212.61,370.99 L213.62,371.16 L214.63,371.32 L215.64,371.48 L216.65,371.64 L217.67,371.80 L218.68,371.96 L219.69,372.12 L220.71,372.27 L221.72,372.43 L222.74,372.58 L223.75,372.73 L224.77,372.88 L225.79,373.03 L226.80,373.18 L227.82,373.33 L228.84,373.48 L229.86,373.63 L230.87,373.77 L231.89,373.92 L232.91,374.07 L233.93,374.22 L234.95,374.37 L235.96,374.52 L236.98,374.66 L238.00,374.81 L239.02,374.96 L240.03,375.12 L241.05,375.27 L242.06,375.42 L243.08,375.58 L244.09,375.73 L245.11,375.89 L246.12,376.05 L247.14,376.21 L248.15,376.37 L249.16,376.53 L250.17,376.70 L251.18,376.87 L252.19,377.04 L253.20,377.21 L254.21,377.38 L255.21,377.56 L256.22,377.74 L257.22,377.93 L258.22,378.11 L259.22,378.30 L260.23,378.49 L261.22,378.69 L262.22,378.89 L263.22,379.09 L264.21,379.29 L265.21,379.50 L266.20,379.72 L267.19,379.93 L268.18,380.16 L269.16,380.38 L270.15,380.61 L271.13,380.84 L272.11,381.08 L273.09,381.33 L274.07,381.57 L275.04,381.83 L276.02,382.09 L276.99,382.35 L277.96,382.62 L278.92,382.89 L279.89,383.17 L280.85,383.45 L281.81,383.74 L282.77,384.04 L283.72,384.34 L284.68,384.65 L285.63,384.96 L286.57,385.28 L287.52,385.61 L288.46,385.94 L289.40,386.28 L290.34,386.63 L291.27,386.98 L292.20,387.34 L293.13,387.71 L294.06,388.08 L294.98,388.47 L295.90,388.85 L296.81,389.25 L297.73,389.66 L298.64,390.07 L299.54,390.49 L300.45,390.92 L301.35,391.35 L302.24,391.79 L303.14,392.25 L304.03,392.71 L304.91,393.18 L305.80,393.66 L306.67,394.14 L307.55,394.64 L308.42,395.14 L309.29,395.66 L310.15,396.18 L311.01,396.71 L311.87,397.25 L312.72,397.80 L313.57,398.36 L314.41,398.93 L315.25,399.51 L316.09,400.10 L316.92,400.70 L317.74,401.30 L318.56,401.91 L319.38,402.53 L320.19,403.16 L320.99,403.80 L321.79,404.44 L322.58,405.10 L323.37,405.76 L324.15,406.42 L324.93,407.10 L325.70,407.78 L326.46,408.47 L327.22,409.16 L327.97,409.86 L328.71,410.57 L329.44,411.29 L330.17,412.01 L330.90,412.73 L331.61,413.46 L332.32,414.20 L333.02,414.95 L333.71,415.69 L334.40,416.45 L335.07,417.21 L335.74,417.97 L336.41,418.74 L337.06,419.52 L337.71,420.29 L338.35,421.08 L338.99,421.86 L339.62,422.66 L340.25,423.45 L340.87,424.25 L341.48,425.05 L342.09,425.86 L342.69,426.67 L343.29,427.49 L343.89,428.31 L344.48,429.13 L345.06,429.95 L345.64,430.78 L346.22,431.61 L346.79,432.44 L347.36,433.28 L347.93,434.12 L348.50,434.96 L349.06,435.80 L349.61,436.64 L350.17,437.49 L350.72,438.34 L351.27,439.19 L351.82,440.04 L352.37,440.90 L352.92,441.75 L353.46,442.61 L354.01,443.46 L354.55,444.32 L355.09,445.18 L355.63,446.04 L356.17,446.90 L356.71,447.76 L357.25,448.63 L357.79,449.49 L358.34,450.35 L358.88,451.21 L359.42,452.07 L359.96,452.93 L360.51,453.80 L361.06,454.66 L361.60,455.52 L362.15,456.38 L362.70,457.23 L363.26,458.09 L363.81,458.95 L364.37,459.80 L364.93,460.66 L365.50,461.51 L366.06,462.36 L366.63,463.21 L367.20,464.06 L367.76,464.91 L368.33,465.76 L368.89,466.61 L369.45,467.47 L370.01,468.32 L370.56,469.18 L371.11,470.03 L371.65,470.89 L372.19,471.76 L372.72,472.62 L373.24,473.49 L373.75,474.37 L374.26,475.24 L374.75,476.12 L375.23,477.01 L375.71,477.90 L376.17,478.80 L376.61,479.70 L377.04,480.61 L377.46,481.53 L377.87,482.45 L378.25,483.38 L378.62,484.31 L378.98,485.26 L379.31,486.21 L379.63,487.17 L379.93,488.14 L380.20,489.12 L380.46,490.11 L380.69,491.10 L380.90,492.11 L381.09,493.13 L381.26,494.16 L381.40,495.20 L381.51,496.25 L381.60,497.32" fill="none" stroke="#A5A5A5" stroke-width="1.2" stroke-linejoin="round" stroke-linecap="round"/><path d="M52.50,307.60 L52.89,308.51 L53.30,309.40 L53.72,310.29 L54.16,311.18 L54.62,312.05 L55.09,312.92 L55.57,313.77 L56.08,314.62 L56.59,315.46 L57.12,316.30 L57.67,317.12 L58.22,317.94 L58.80,318.75 L59.38,319.55 L59.98,320.34 L60.59,321.12 L61.21,321.90 L61.84,322.67 L62.48,323.42 L63.13,324.17 L63.80,324.91 L64.47,325.65 L65.16,326.37 L65.85,327.09 L66.55,327.79 L67.27,328.49 L67.99,329.18 L68.72,329.86 L69.45,330.53 L70.19,331.19 L70.95,331.85 L71.70,332.49 L72.47,333.13 L73.24,333.76 L74.01,334.38 L74.79,334.99 L75.58,335.59 L76.38,336.18 L77.18,336.77 L77.98,337.34 L78.79,337.91 L79.61,338.47 L80.43,339.02 L81.25,339.57 L82.08,340.11 L82.92,340.64 L83.76,341.16 L84.60,341.67 L85.45,342.18 L86.30,342.68 L87.16,343.17 L88.02,343.66 L88.88,344.14 L89.75,344.61 L90.62,345.08 L91.50,345.54 L92.37,345.99 L93.26,346.44 L94.14,346.88 L95.03,347.31 L95.92,347.74 L96.81,348.17 L97.71,348.58 L98.60,348.99 L99.50,349.40 L100.41,349.80 L101.31,350.20 L102.22,350.59 L103.13,350.97 L104.04,351.36 L104.96,351.73 L105.87,352.11 L106.79,352.48 L107.71,352.84 L108.63,353.20 L109.56,353.56 L110.48,353.92 L111.41,354.27 L112.34,354.61 L113.27,354.96 L114.20,355.30 L115.13,355.64 L116.07,355.98 L117.00,356.31 L117.94,356.64 L118.87,356.97 L119.81,357.30 L120.75,357.63 L121.69,357.95 L122.63,358.28 L123.57,358.60 L124.51,358.92 L125.46,359.24 L126.40,359.56 L127.34,359.88 L128.29,360.20 L129.23,360.52 L130.17,360.83 L131.12,361.15 L132.06,361.47 L133.00,361.79 L133.95,362.11 L134.89,362.43 L135.83,362.75 L136.78,363.07 L137.72,363.39 L138.66,363.71 L139.60,364.04 L140.54,364.36 L141.48,364.69 L142.42,365.02 L143.36,365.35 L144.30,365.69 L145.23,366.02 L146.17,366.36 L147.10,366.70 L148.03,367.05 L148.96,367.39 L149.89,367.75 L150.82,368.10 L151.75,368.46 L152.68,368.82 L153.60,369.18 L154.52,369.55 L155.44,369.92 L156.36,370.29 L157.28,370.66 L158.20,371.04 L159.12,371.42 L160.04,371.80 L160.95,372.18 L161.87,372.56 L162.78,372.94 L163.70,373.33 L164.61,373.71 L165.52,374.10 L166.44,374.48 L167.35,374.87 L168.26,375.25 L169.18,375.64 L170.09,376.02 L171.01,376.40 L171.92,376.78 L172.83,377.16 L173.75,377.54 L174.67,377.92 L175.58,378.29 L176.50,378.67 L177.42,379.04 L178.34,379.40 L179.26,379.77 L180.18,380.13 L181.10,380.49 L182.02,380.84 L182.95,381.19 L183.88,381.54 L184.80,381.88 L185.73,382.22 L186.67,382.55 L187.60,382.88 L188.53,383.21 L189.47,383.53 L190.41,383.85 L191.34,384.17 L192.28,384.48 L193.22,384.79 L194.17,385.10 L195.11,385.40 L196.05,385.70 L197.00,386.00 L197.94,386.30 L198.89,386.59 L199.84,386.89 L200.79,387.18 L201.74,387.47 L202.69,387.75 L203.64,388.04 L204.59,388.32 L205.54,388.60 L206.49,388.89 L207.44,389.17 L208.40,389.44 L209.35,389.72 L210.30,390.00 L211.26,390.28 L212.21,390.56 L213.16,390.83 L214.12,391.11 L215.07,391.39 L216.03,391.67 L216.98,391.94 L217.93,392.22 L218.89,392.50 L219.84,392.78 L220.80,393.06 L221.75,393.34 L222.70,393.62 L223.66,393.90 L224.61,394.19 L225.56,394.47 L226.51,394.75 L227.47,395.04 L228.42,395.32 L229.37,395.61 L230.32,395.89 L231.27,396.18 L232.23,396.46 L233.18,396.75 L234.13,397.04 L235.08,397.33 L236.03,397.62 L236.98,397.91 L237.93,398.20 L238.88,398.49 L239.83,398.78 L240.78,399.08 L241.73,399.37 L242.68,399.66 L243.63,399.96 L244.58,400.25 L245.53,400.55 L246.47,400.85 L247.42,401.15 L248.37,401.45 L249.32,401.75 L250.26,402.05 L251.21,402.35 L252.16,402.65 L253.10,402.95 L254.05,403.26 L255.00,403.56 L255.94,403.86 L256.89,404.17 L257.83,404.48 L258.78,404.79 L259.72,405.09 L260.66,405.40 L261.61,405.71 L262.55,406.03 L263.49,406.34 L264.43,406.65 L265.38,406.97 L266.32,407.28 L267.26,407.60 L268.20,407.91 L269.14,408.23 L270.08,408.55 L271.02,408.87 L271.96,409.19 L272.90,409.51 L273.84,409.83 L274.78,410.16 L275.71,410.48 L276.65,410.81 L277.59,411.13 L278.52,411.46 L279.46,411.79 L280.40,412.12 L281.33,412.45 L282.27,412.78 L283.20,413.12 L284.13,413.45 L285.07,413.78 L286.00,414.12 L286.93,414.46 L287.86,414.80 L288.80,415.14 L289.73,415.48 L290.66,415.82 L291.59,416.16 L292.52,416.51 L293.45,416.85 L294.37,417.20 L295.30,417.54 L296.23,417.89 L297.16,418.24 L298.08,418.59 L299.01,418.95 L299.93,419.30 L300.86,419.65 L301.78,420.01 L302.71,420.37 L303.63,420.73 L304.55,421.09 L305.47,421.45 L306.39,421.81 L307.32,422.17 L308.24,422.54 L309.16,422.90 L310.07,423.27 L310.99,423.64 L311.91,424.01 L312.83,424.38 L313.74,424.75 L314.66,425.13 L315.57,425.51 L316.49,425.89 L317.40,426.27 L318.31,426.65 L319.22,427.04 L320.12,427.44 L321.03,427.83 L321.93,428.23 L322.83,428.64 L323.72,429.05 L324.62,429.47 L325.51,429.89 L326.39,430.32 L327.28,430.76 L328.16,431.20 L329.03,431.65 L329.90,432.10 L330.77,432.57 L331.63,433.04 L332.49,433.52 L333.35,434.01 L334.19,434.50 L335.04,435.01 L335.88,435.52 L336.72,436.04 L337.55,436.57 L338.38,437.11 L339.20,437.65 L340.02,438.20 L340.84,438.76 L341.66,439.32 L342.47,439.89 L343.28,440.47 L344.09,441.05 L344.89,441.64 L345.69,442.23 L346.49,442.83 L347.28,443.44 L348.06,444.05 L348.84,444.67 L349.62,445.30 L350.39,445.93 L351.16,446.57 L351.92,447.22 L352.68,447.87 L353.43,448.53 L354.18,449.19 L354.92,449.86 L355.65,450.54 L356.38,451.22 L357.10,451.91 L357.81,452.61 L358.52,453.31 L359.22,454.02 L359.91,454.73 L360.60,455.45 L361.28,456.18 L361.95,456.91 L362.61,457.65 L363.27,458.40 L363.91,459.15 L364.55,459.91 L365.18,460.67 L365.80,461.44 L366.42,462.22 L367.02,463.00 L367.62,463.79 L368.20,464.59 L368.78,465.39 L369.34,466.20 L369.90,467.01 L370.45,467.83 L370.98,468.66 L371.51,469.49 L372.02,470.33 L372.53,471.18 L373.02,472.03 L373.50,472.88 L373.97,473.75 L374.43,474.62 L374.88,475.49 L375.32,476.37 L375.74,477.26 L376.16,478.16 L376.56,479.06 L376.94,479.96 L377.32,480.87 L377.68,481.79 L378.03,482.72 L378.37,483.65 L378.69,484.59 L379.00,485.53 L379.30,486.48 L379.58,487.43 L379.85,488.39 L380.10,489.36 L380.34,490.33 L380.56,491.31 L380.77,492.30 L380.97,493.29 L381.15,494.29 L381.32,495.29 L381.47,496.30 L381.60,497.32" fill="none" stroke="#FFC000" stroke-width="1.2" stroke-linejoin="round" stroke-linecap="round"/><path d="M52.50,307.60 L53.05,308.51 L53.62,309.40 L54.20,310.28 L54.80,311.14 L55.40,311.98 L56.02,312.80 L56.65,313.61 L57.29,314.41 L57.94,315.19 L58.61,315.95 L59.28,316.70 L59.97,317.43 L60.67,318.15 L61.38,318.85 L62.10,319.54 L62.82,320.22 L63.56,320.88 L64.31,321.53 L65.07,322.17 L65.84,322.79 L66.61,323.40 L67.40,324.00 L68.19,324.58 L69.00,325.16 L69.81,325.72 L70.63,326.27 L71.46,326.81 L72.29,327.34 L73.14,327.86 L73.99,328.37 L74.84,328.86 L75.71,329.35 L76.58,329.83 L77.46,330.30 L78.34,330.76 L79.23,331.21 L80.13,331.65 L81.03,332.08 L81.94,332.51 L82.85,332.92 L83.77,333.33 L84.70,333.73 L85.62,334.13 L86.56,334.51 L87.50,334.90 L88.44,335.27 L89.38,335.64 L90.33,336.00 L91.29,336.35 L92.24,336.70 L93.20,337.05 L94.16,337.39 L95.13,337.72 L96.10,338.05 L97.07,338.38 L98.04,338.70 L99.02,339.02 L99.99,339.33 L100.97,339.65 L101.95,339.95 L102.93,340.26 L103.91,340.56 L104.89,340.86 L105.88,341.16 L106.86,341.45 L107.84,341.75 L108.83,342.04 L109.81,342.33 L110.80,342.62 L111.78,342.91 L112.76,343.20 L113.75,343.49 L114.73,343.77 L115.71,344.06 L116.69,344.34 L117.68,344.63 L118.66,344.91 L119.64,345.19 L120.62,345.47 L121.61,345.74 L122.59,346.02 L123.57,346.30 L124.55,346.57 L125.53,346.85 L126.51,347.12 L127.50,347.39 L128.48,347.66 L129.46,347.93 L130.44,348.20 L131.42,348.47 L132.40,348.74 L133.38,349.00 L134.36,349.27 L135.34,349.53 L136.33,349.79 L137.31,350.06 L138.29,350.32 L139.27,350.58 L140.25,350.84 L141.23,351.10 L142.21,351.36 L143.19,351.62 L144.17,351.87 L145.15,352.13 L146.13,352.38 L147.11,352.64 L148.09,352.89 L149.07,353.15 L150.05,353.40 L151.03,353.65 L152.01,353.90 L152.99,354.15 L153.97,354.40 L154.95,354.65 L155.93,354.90 L156.91,355.15 L157.89,355.40 L158.87,355.64 L159.85,355.89 L160.83,356.14 L161.81,356.38 L162.78,356.63 L163.76,356.87 L164.74,357.12 L165.72,357.36 L166.70,357.60 L167.68,357.84 L168.66,358.09 L169.64,358.33 L170.62,358.57 L171.60,358.81 L172.58,359.05 L173.56,359.29 L174.54,359.53 L175.52,359.77 L176.50,360.01 L177.48,360.25 L178.46,360.49 L179.44,360.72 L180.42,360.96 L181.40,361.20 L182.38,361.44 L183.36,361.67 L184.34,361.91 L185.32,362.15 L186.30,362.38 L187.28,362.62 L188.26,362.85 L189.24,363.09 L190.22,363.33 L191.20,363.56 L192.18,363.80 L193.16,364.03 L194.14,364.27 L195.12,364.50 L196.10,364.74 L197.08,364.97 L198.06,365.21 L199.04,365.44 L200.02,365.68 L201.00,365.91 L201.98,366.15 L202.96,366.38 L203.94,366.62 L204.92,366.85 L205.90,367.09 L206.89,367.32 L207.87,367.56 L208.85,367.79 L209.83,368.03 L210.81,368.26 L211.79,368.50 L212.78,368.74 L213.76,368.97 L214.74,369.21 L215.72,369.44 L216.70,369.68 L217.69,369.92 L218.67,370.15 L219.65,370.39 L220.63,370.63 L221.62,370.87 L222.60,371.10 L223.58,371.34 L224.57,371.58 L225.55,371.82 L226.53,372.06 L227.52,372.30 L228.50,372.54 L229.48,372.78 L230.47,373.02 L231.45,373.26 L232.44,373.50 L233.42,373.75 L234.40,373.99 L235.39,374.23 L236.37,374.48 L237.36,374.72 L238.34,374.96 L239.33,375.21 L240.31,375.45 L241.30,375.70 L242.29,375.95 L243.27,376.19 L244.26,376.44 L245.25,376.69 L246.23,376.94 L247.22,377.19 L248.21,377.44 L249.19,377.69 L250.18,377.94 L251.17,378.19 L252.15,378.44 L253.14,378.70 L254.13,378.95 L255.12,379.21 L256.11,379.46 L257.09,379.72 L258.08,379.98 L259.07,380.24 L260.05,380.50 L261.04,380.77 L262.03,381.03 L263.01,381.30 L264.00,381.56 L264.98,381.83 L265.97,382.11 L266.95,382.38 L267.94,382.65 L268.92,382.93 L269.90,383.21 L270.88,383.49 L271.87,383.77 L272.85,384.06 L273.82,384.35 L274.80,384.64 L275.78,384.93 L276.76,385.23 L277.73,385.53 L278.71,385.83 L279.68,386.13 L280.65,386.44 L281.62,386.75 L282.59,387.06 L283.56,387.38 L284.53,387.70 L285.49,388.02 L286.46,388.35 L287.42,388.68 L288.38,389.01 L289.34,389.35 L290.30,389.69 L291.26,390.03 L292.21,390.38 L293.16,390.73 L294.12,391.08 L295.07,391.44 L296.01,391.81 L296.96,392.18 L297.90,392.55 L298.84,392.92 L299.78,393.31 L300.72,393.69 L301.66,394.08 L302.59,394.48 L303.52,394.87 L304.45,395.28 L305.38,395.69 L306.30,396.10 L307.22,396.52 L308.14,396.94 L309.06,397.37 L309.97,397.81 L310.89,398.25 L311.79,398.69 L312.70,399.14 L313.61,399.60 L314.51,400.06 L315.40,400.52 L316.30,401.00 L317.19,401.48 L318.08,401.96 L318.96,402.45 L319.84,402.95 L320.72,403.45 L321.59,403.96 L322.46,404.47 L323.33,405.00 L324.19,405.52 L325.04,406.06 L325.89,406.60 L326.74,407.15 L327.58,407.70 L328.41,408.27 L329.24,408.83 L330.07,409.41 L330.89,409.99 L331.70,410.58 L332.51,411.18 L333.31,411.79 L334.11,412.40 L334.89,413.02 L335.68,413.65 L336.46,414.28 L337.23,414.92 L337.99,415.57 L338.75,416.22 L339.50,416.89 L340.25,417.56 L340.99,418.23 L341.72,418.92 L342.44,419.61 L343.16,420.31 L343.87,421.01 L344.58,421.72 L345.27,422.44 L345.96,423.17 L346.65,423.90 L347.32,424.64 L347.99,425.38 L348.65,426.14 L349.31,426.89 L349.95,427.66 L350.59,428.43 L351.22,429.21 L351.85,430.00 L352.46,430.79 L353.07,431.59 L353.67,432.40 L354.26,433.21 L354.85,434.03 L355.43,434.85 L356.00,435.68 L356.56,436.51 L357.12,437.36 L357.67,438.20 L358.21,439.05 L358.74,439.91 L359.27,440.77 L359.79,441.64 L360.31,442.51 L360.82,443.39 L361.32,444.27 L361.81,445.16 L362.30,446.05 L362.79,446.94 L363.26,447.84 L363.73,448.75 L364.20,449.65 L364.66,450.56 L365.11,451.48 L365.56,452.40 L366.00,453.32 L366.44,454.24 L366.87,455.17 L367.29,456.10 L367.71,457.04 L368.13,457.97 L368.53,458.91 L368.94,459.86 L369.34,460.80 L369.73,461.75 L370.12,462.70 L370.51,463.65 L370.89,464.60 L371.26,465.56 L371.63,466.51 L372.00,467.47 L372.36,468.43 L372.72,469.39 L373.07,470.36 L373.42,471.32 L373.77,472.28 L374.11,473.25 L374.45,474.22 L374.78,475.18 L375.11,476.15 L375.44,477.12 L375.76,478.09 L376.08,479.05 L376.40,480.02 L376.71,480.99 L377.02,481.96 L377.32,482.93 L377.63,483.89 L377.93,484.86 L378.23,485.83 L378.52,486.79 L378.81,487.76 L379.10,488.72 L379.39,489.68 L379.67,490.64 L379.95,491.60 L380.23,492.56 L380.51,493.51 L380.79,494.47 L381.06,495.42 L381.33,496.37 L381.60,497.32" fill="none" stroke="#4472C4" stroke-width="1.2" stroke-linejoin="round" stroke-linecap="round"/><path d="M52.50,307.60 L52.59,308.61 L52.71,309.62 L52.85,310.62 L53.02,311.62 L53.21,312.60 L53.43,313.58 L53.67,314.54 L53.93,315.49 L54.22,316.43 L54.54,317.35 L54.89,318.25 L55.26,319.14 L55.65,320.01 L56.08,320.86 L56.53,321.69 L57.01,322.49 L57.52,323.27 L58.06,324.03 L58.62,324.76 L59.22,325.46 L59.84,326.13 L60.49,326.78 L61.18,327.39 L61.89,327.97 L62.64,328.52 L63.41,329.03 L64.20,329.53 L65.02,330.00 L65.85,330.46 L66.68,330.92 L67.52,331.38 L68.36,331.84 L69.20,332.31 L70.04,332.78 L70.88,333.26 L71.72,333.74 L72.55,334.23 L73.39,334.72 L74.23,335.21 L75.07,335.70 L75.91,336.19 L76.75,336.69 L77.58,337.18 L78.42,337.67 L79.26,338.16 L80.11,338.65 L80.95,339.14 L81.79,339.62 L82.63,340.10 L83.48,340.58 L84.32,341.06 L85.17,341.54 L86.02,342.01 L86.86,342.49 L87.71,342.96 L88.56,343.43 L89.41,343.90 L90.26,344.36 L91.11,344.83 L91.96,345.29 L92.81,345.76 L93.66,346.22 L94.51,346.68 L95.37,347.13 L96.22,347.59 L97.07,348.05 L97.93,348.50 L98.78,348.95 L99.64,349.41 L100.49,349.86 L101.35,350.31 L102.21,350.76 L103.06,351.20 L103.92,351.65 L104.78,352.10 L105.64,352.54 L106.50,352.99 L107.36,353.43 L108.21,353.87 L109.07,354.32 L109.93,354.76 L110.79,355.20 L111.65,355.64 L112.51,356.08 L113.38,356.52 L114.24,356.95 L115.10,357.39 L115.96,357.83 L116.82,358.27 L117.68,358.70 L118.54,359.14 L119.41,359.58 L120.27,360.01 L121.13,360.45 L121.99,360.89 L122.85,361.32 L123.72,361.76 L124.58,362.19 L125.44,362.63 L126.30,363.06 L127.17,363.50 L128.03,363.94 L128.89,364.37 L129.75,364.81 L130.62,365.24 L131.48,365.68 L132.34,366.12 L133.20,366.55 L134.06,366.99 L134.93,367.43 L135.79,367.87 L136.65,368.31 L137.51,368.75 L138.37,369.19 L139.23,369.63 L140.09,370.07 L140.95,370.51 L141.81,370.96 L142.67,371.40 L143.53,371.84 L144.39,372.29 L145.25,372.74 L146.11,373.18 L146.97,373.63 L147.83,374.08 L148.68,374.53 L149.54,374.98 L150.40,375.43 L151.25,375.89 L152.11,376.34 L152.97,376.80 L153.82,377.25 L154.68,377.71 L155.53,378.17 L156.39,378.63 L157.24,379.09 L158.10,379.54 L158.95,380.00 L159.81,380.46 L160.66,380.92 L161.52,381.38 L162.37,381.83 L163.23,382.29 L164.08,382.75 L164.94,383.20 L165.80,383.66 L166.66,384.11 L167.52,384.56 L168.37,385.01 L169.23,385.46 L170.10,385.90 L170.96,386.35 L171.82,386.79 L172.68,387.23 L173.55,387.67 L174.41,388.11 L175.28,388.54 L176.15,388.97 L177.02,389.40 L177.89,389.82 L178.76,390.24 L179.63,390.66 L180.51,391.07 L181.38,391.48 L182.26,391.89 L183.14,392.29 L184.02,392.69 L184.90,393.09 L185.79,393.48 L186.67,393.87 L187.56,394.25 L188.45,394.63 L189.34,395.01 L190.23,395.38 L191.13,395.76 L192.02,396.13 L192.91,396.49 L193.81,396.86 L194.70,397.22 L195.60,397.59 L196.50,397.95 L197.39,398.31 L198.29,398.67 L199.19,399.03 L200.09,399.39 L200.99,399.75 L201.88,400.11 L202.78,400.47 L203.68,400.83 L204.57,401.19 L205.47,401.55 L206.37,401.92 L207.26,402.29 L208.16,402.65 L209.05,403.02 L209.94,403.40 L210.83,403.77 L211.72,404.15 L212.61,404.53 L213.50,404.92 L214.38,405.31 L215.26,405.70 L216.15,406.10 L217.03,406.50 L217.90,406.90 L218.78,407.31 L219.66,407.72 L220.53,408.14 L221.40,408.56 L222.27,408.99 L223.14,409.41 L224.01,409.84 L224.87,410.28 L225.74,410.71 L226.60,411.15 L227.47,411.59 L228.33,412.03 L229.19,412.47 L230.05,412.92 L230.91,413.36 L231.77,413.81 L232.63,414.25 L233.49,414.70 L234.36,415.15 L235.22,415.59 L236.08,416.04 L236.94,416.49 L237.80,416.93 L238.66,417.37 L239.52,417.82 L240.39,418.26 L241.25,418.70 L242.11,419.13 L242.98,419.57 L243.85,420.00 L244.71,420.43 L245.58,420.86 L246.45,421.28 L247.32,421.70 L248.20,422.12 L249.07,422.53 L249.95,422.94 L250.83,423.34 L251.71,423.74 L252.59,424.14 L253.47,424.53 L254.36,424.92 L255.25,425.31 L256.13,425.69 L257.02,426.07 L257.91,426.45 L258.80,426.82 L259.70,427.20 L260.59,427.57 L261.48,427.94 L262.38,428.30 L263.27,428.67 L264.17,429.04 L265.06,429.40 L265.96,429.76 L266.85,430.13 L267.75,430.49 L268.64,430.86 L269.54,431.22 L270.43,431.59 L271.33,431.95 L272.22,432.32 L273.12,432.69 L274.01,433.06 L274.90,433.43 L275.80,433.80 L276.69,434.18 L277.58,434.55 L278.46,434.93 L279.35,435.32 L280.24,435.70 L281.12,436.09 L282.01,436.49 L282.89,436.88 L283.77,437.28 L284.64,437.69 L285.52,438.10 L286.40,438.51 L287.27,438.92 L288.14,439.34 L289.01,439.77 L289.88,440.19 L290.74,440.62 L291.61,441.06 L292.47,441.49 L293.33,441.94 L294.19,442.38 L295.05,442.83 L295.91,443.28 L296.76,443.74 L297.61,444.19 L298.46,444.66 L299.31,445.12 L300.16,445.59 L301.01,446.06 L301.85,446.54 L302.69,447.02 L303.53,447.50 L304.37,447.99 L305.21,448.48 L306.04,448.97 L306.88,449.46 L307.71,449.96 L308.54,450.46 L309.37,450.97 L310.20,451.48 L311.02,451.99 L311.84,452.50 L312.67,453.02 L313.49,453.54 L314.30,454.06 L315.12,454.59 L315.93,455.12 L316.75,455.65 L317.56,456.19 L318.37,456.73 L319.17,457.27 L319.98,457.81 L320.78,458.36 L321.58,458.91 L322.39,459.46 L323.18,460.02 L323.98,460.57 L324.77,461.14 L325.57,461.70 L326.36,462.27 L327.15,462.83 L327.94,463.41 L328.72,463.98 L329.51,464.56 L330.29,465.14 L331.07,465.72 L331.85,466.30 L332.62,466.89 L333.40,467.48 L334.17,468.07 L334.94,468.67 L335.71,469.26 L336.48,469.86 L337.25,470.46 L338.02,471.06 L338.78,471.66 L339.55,472.26 L340.31,472.86 L341.08,473.47 L341.84,474.07 L342.60,474.67 L343.37,475.27 L344.13,475.87 L344.90,476.47 L345.66,477.06 L346.43,477.66 L347.20,478.25 L347.97,478.84 L348.74,479.43 L349.51,480.01 L350.28,480.59 L351.06,481.17 L351.83,481.74 L352.61,482.31 L353.40,482.88 L354.18,483.44 L354.97,483.99 L355.76,484.54 L356.55,485.09 L357.35,485.63 L358.15,486.16 L358.95,486.69 L359.75,487.21 L360.57,487.72 L361.38,488.23 L362.20,488.73 L363.02,489.22 L363.85,489.71 L364.68,490.18 L365.52,490.65 L366.36,491.11 L367.21,491.56 L368.06,492.00 L368.92,492.43 L369.78,492.85 L370.65,493.26 L371.53,493.66 L372.41,494.05 L373.30,494.43 L374.19,494.80 L375.09,495.16 L376.00,495.50 L376.91,495.84 L377.84,496.16 L378.77,496.47 L379.70,496.76 L380.65,497.05 L381.60,497.32" fill="none" stroke="#70AD47" stroke-width="1.2" stroke-linejoin="round" stroke-linecap="round"/><path d="M52.50,307.60 L52.94,308.50 L53.38,309.38 L53.84,310.26 L54.31,311.13 L54.79,311.99 L55.28,312.84 L55.78,313.69 L56.29,314.52 L56.81,315.35 L57.33,316.17 L57.87,316.98 L58.42,317.78 L58.98,318.57 L59.54,319.35 L60.12,320.13 L60.70,320.90 L61.30,321.65 L61.90,322.41 L62.51,323.15 L63.13,323.88 L63.76,324.61 L64.39,325.33 L65.04,326.04 L65.69,326.74 L66.35,327.44 L67.01,328.12 L67.69,328.80 L68.37,329.47 L69.06,330.14 L69.76,330.79 L70.46,331.44 L71.17,332.08 L71.89,332.72 L72.61,333.34 L73.34,333.96 L74.08,334.57 L74.82,335.18 L75.57,335.78 L76.33,336.37 L77.09,336.95 L77.86,337.53 L78.63,338.10 L79.41,338.66 L80.19,339.22 L80.98,339.77 L81.77,340.31 L82.57,340.85 L83.37,341.38 L84.18,341.90 L85.00,342.42 L85.81,342.93 L86.64,343.44 L87.46,343.94 L88.29,344.43 L89.13,344.92 L89.97,345.40 L90.81,345.88 L91.66,346.35 L92.50,346.82 L93.36,347.28 L94.22,347.74 L95.08,348.19 L95.94,348.64 L96.80,349.08 L97.67,349.52 L98.55,349.95 L99.42,350.38 L100.30,350.81 L101.18,351.23 L102.06,351.65 L102.94,352.06 L103.83,352.47 L104.72,352.87 L105.61,353.27 L106.50,353.67 L107.39,354.06 L108.29,354.45 L109.18,354.84 L110.08,355.23 L110.98,355.61 L111.88,355.98 L112.78,356.36 L113.68,356.73 L114.59,357.10 L115.49,357.47 L116.40,357.84 L117.30,358.20 L118.21,358.56 L119.11,358.92 L120.02,359.28 L120.93,359.63 L121.83,359.99 L122.74,360.34 L123.65,360.69 L124.56,361.04 L125.46,361.39 L126.37,361.74 L127.28,362.08 L128.19,362.43 L129.10,362.78 L130.01,363.12 L130.91,363.47 L131.82,363.81 L132.73,364.15 L133.64,364.50 L134.55,364.84 L135.45,365.18 L136.36,365.53 L137.27,365.87 L138.17,366.22 L139.08,366.56 L139.98,366.91 L140.89,367.25 L141.79,367.60 L142.70,367.95 L143.60,368.29 L144.51,368.64 L145.41,369.00 L146.31,369.35 L147.21,369.70 L148.11,370.06 L149.01,370.41 L149.91,370.77 L150.80,371.13 L151.70,371.50 L152.60,371.86 L153.49,372.23 L154.38,372.60 L155.28,372.97 L156.17,373.34 L157.06,373.71 L157.95,374.08 L158.84,374.46 L159.73,374.84 L160.62,375.22 L161.51,375.60 L162.40,375.98 L163.29,376.36 L164.17,376.74 L165.06,377.12 L165.95,377.51 L166.83,377.89 L167.72,378.28 L168.60,378.67 L169.49,379.05 L170.38,379.44 L171.26,379.83 L172.15,380.22 L173.03,380.60 L173.92,380.99 L174.80,381.38 L175.69,381.77 L176.57,382.16 L177.46,382.54 L178.34,382.93 L179.23,383.32 L180.12,383.71 L181.00,384.09 L181.89,384.48 L182.78,384.86 L183.67,385.25 L184.55,385.63 L185.44,386.01 L186.33,386.40 L187.22,386.78 L188.11,387.16 L189.00,387.54 L189.89,387.92 L190.79,388.29 L191.68,388.67 L192.57,389.05 L193.46,389.42 L194.36,389.80 L195.25,390.17 L196.14,390.55 L197.04,390.92 L197.93,391.29 L198.83,391.67 L199.72,392.04 L200.62,392.41 L201.51,392.78 L202.41,393.15 L203.31,393.52 L204.20,393.89 L205.10,394.26 L206.00,394.63 L206.90,395.00 L207.79,395.36 L208.69,395.73 L209.59,396.10 L210.49,396.47 L211.39,396.83 L212.29,397.20 L213.19,397.56 L214.09,397.93 L214.99,398.30 L215.89,398.66 L216.79,399.03 L217.69,399.39 L218.59,399.75 L219.49,400.12 L220.39,400.48 L221.29,400.85 L222.19,401.21 L223.09,401.58 L223.99,401.94 L224.89,402.30 L225.79,402.67 L226.69,403.03 L227.59,403.40 L228.49,403.76 L229.40,404.12 L230.30,404.49 L231.20,404.85 L232.10,405.21 L233.00,405.58 L233.90,405.94 L234.80,406.31 L235.70,406.67 L236.60,407.04 L237.50,407.40 L238.41,407.77 L239.31,408.13 L240.21,408.50 L241.11,408.87 L242.01,409.23 L242.91,409.60 L243.81,409.97 L244.71,410.33 L245.61,410.70 L246.51,411.07 L247.41,411.44 L248.31,411.81 L249.20,412.18 L250.10,412.55 L251.00,412.92 L251.90,413.29 L252.80,413.66 L253.70,414.03 L254.60,414.40 L255.49,414.77 L256.39,415.15 L257.29,415.52 L258.18,415.90 L259.08,416.27 L259.98,416.65 L260.87,417.02 L261.77,417.40 L262.66,417.78 L263.56,418.16 L264.45,418.54 L265.35,418.92 L266.24,419.30 L267.13,419.68 L268.03,420.06 L268.92,420.45 L269.81,420.83 L270.70,421.22 L271.59,421.60 L272.48,421.99 L273.37,422.38 L274.26,422.76 L275.15,423.15 L276.04,423.55 L276.93,423.94 L277.82,424.33 L278.71,424.72 L279.59,425.12 L280.48,425.51 L281.37,425.91 L282.25,426.31 L283.14,426.71 L284.02,427.11 L284.90,427.51 L285.79,427.91 L286.67,428.31 L287.55,428.72 L288.43,429.12 L289.31,429.53 L290.19,429.94 L291.07,430.35 L291.95,430.76 L292.83,431.17 L293.71,431.59 L294.59,432.00 L295.46,432.42 L296.34,432.84 L297.21,433.26 L298.09,433.68 L298.96,434.10 L299.83,434.52 L300.70,434.95 L301.57,435.37 L302.44,435.80 L303.31,436.23 L304.18,436.66 L305.05,437.09 L305.92,437.53 L306.78,437.96 L307.65,438.40 L308.51,438.84 L309.38,439.28 L310.24,439.72 L311.10,440.17 L311.96,440.61 L312.83,441.06 L313.68,441.51 L314.54,441.96 L315.40,442.41 L316.26,442.87 L317.11,443.32 L317.97,443.78 L318.82,444.24 L319.68,444.70 L320.53,445.16 L321.38,445.63 L322.23,446.10 L323.08,446.57 L323.93,447.04 L324.77,447.51 L325.62,447.99 L326.46,448.46 L327.31,448.94 L328.15,449.42 L328.99,449.91 L329.83,450.39 L330.67,450.88 L331.51,451.37 L332.35,451.86 L333.19,452.35 L334.02,452.85 L334.86,453.35 L335.69,453.85 L336.52,454.35 L337.35,454.86 L338.18,455.36 L339.00,455.88 L339.83,456.39 L340.65,456.91 L341.47,457.43 L342.29,457.95 L343.10,458.47 L343.92,459.00 L344.73,459.54 L345.54,460.07 L346.34,460.61 L347.14,461.16 L347.94,461.71 L348.73,462.26 L349.53,462.82 L350.31,463.38 L351.10,463.94 L351.88,464.51 L352.66,465.08 L353.43,465.66 L354.20,466.25 L354.96,466.83 L355.72,467.43 L356.48,468.03 L357.23,468.63 L357.97,469.24 L358.72,469.85 L359.45,470.47 L360.18,471.10 L360.91,471.73 L361.63,472.36 L362.34,473.01 L363.05,473.66 L363.76,474.31 L364.46,474.97 L365.15,475.64 L365.83,476.31 L366.51,476.99 L367.19,477.68 L367.85,478.37 L368.51,479.07 L369.17,479.78 L369.81,480.49 L370.45,481.22 L371.09,481.94 L371.71,482.68 L372.33,483.42 L372.94,484.18 L373.54,484.94 L374.14,485.70 L374.73,486.48 L375.31,487.26 L375.88,488.05 L376.44,488.85 L377.00,489.66 L377.54,490.47 L378.08,491.30 L378.61,492.13 L379.13,492.97 L379.64,493.82 L380.15,494.68 L380.64,495.55 L381.12,496.43 L381.60,497.32" fill="none" stroke="#4472C4" stroke-width="1.2" stroke-linejoin="round" stroke-linecap="round"/><path d="M52.50,307.60 L52.97,308.50 L53.44,309.39 L53.92,310.27 L54.41,311.15 L54.91,312.02 L55.41,312.88 L55.92,313.74 L56.43,314.59 L56.95,315.44 L57.48,316.27 L58.02,317.11 L58.56,317.93 L59.10,318.75 L59.66,319.57 L60.21,320.37 L60.78,321.18 L61.35,321.97 L61.93,322.76 L62.51,323.55 L63.10,324.32 L63.69,325.10 L64.29,325.86 L64.90,326.62 L65.51,327.38 L66.13,328.13 L66.75,328.87 L67.38,329.61 L68.02,330.34 L68.66,331.07 L69.30,331.79 L69.95,332.51 L70.61,333.22 L71.27,333.92 L71.93,334.62 L72.60,335.32 L73.28,336.01 L73.96,336.69 L74.64,337.37 L75.33,338.04 L76.03,338.71 L76.73,339.37 L77.43,340.03 L78.14,340.69 L78.86,341.34 L79.58,341.98 L80.30,342.62 L81.03,343.25 L81.76,343.88 L82.49,344.51 L83.23,345.12 L83.98,345.74 L84.73,346.35 L85.48,346.96 L86.24,347.56 L87.00,348.15 L87.76,348.75 L88.53,349.33 L89.30,349.92 L90.08,350.50 L90.86,351.07 L91.64,351.64 L92.43,352.21 L93.22,352.77 L94.01,353.33 L94.81,353.88 L95.61,354.43 L96.42,354.98 L97.22,355.52 L98.03,356.05 L98.85,356.59 L99.66,357.12 L100.49,357.64 L101.31,358.17 L102.13,358.68 L102.96,359.20 L103.80,359.71 L104.63,360.22 L105.47,360.72 L106.31,361.22 L107.15,361.72 L108.00,362.21 L108.84,362.70 L109.69,363.18 L110.55,363.67 L111.40,364.15 L112.26,364.62 L113.12,365.09 L113.98,365.56 L114.84,366.03 L115.71,366.49 L116.58,366.95 L117.45,367.41 L118.32,367.86 L119.20,368.31 L120.07,368.76 L120.95,369.21 L121.83,369.65 L122.71,370.09 L123.59,370.52 L124.48,370.96 L125.36,371.39 L126.25,371.82 L127.14,372.24 L128.03,372.67 L128.92,373.09 L129.81,373.50 L130.70,373.92 L131.60,374.33 L132.49,374.74 L133.39,375.15 L134.29,375.56 L135.19,375.96 L136.08,376.36 L136.99,376.76 L137.89,377.16 L138.79,377.55 L139.69,377.94 L140.59,378.33 L141.50,378.72 L142.40,379.11 L143.30,379.49 L144.21,379.87 L145.11,380.25 L146.02,380.63 L146.92,381.01 L147.83,381.39 L148.73,381.76 L149.64,382.13 L150.55,382.50 L151.45,382.87 L152.36,383.24 L153.26,383.60 L154.17,383.97 L155.07,384.33 L155.98,384.69 L156.88,385.05 L157.79,385.41 L158.69,385.76 L159.60,386.12 L160.50,386.47 L161.41,386.82 L162.32,387.17 L163.22,387.52 L164.13,387.87 L165.04,388.21 L165.94,388.56 L166.85,388.90 L167.76,389.24 L168.67,389.58 L169.57,389.92 L170.48,390.25 L171.39,390.59 L172.30,390.92 L173.21,391.25 L174.12,391.59 L175.03,391.91 L175.94,392.24 L176.86,392.57 L177.77,392.89 L178.68,393.22 L179.60,393.54 L180.51,393.86 L181.43,394.18 L182.34,394.50 L183.26,394.81 L184.18,395.13 L185.10,395.44 L186.01,395.75 L186.93,396.06 L187.86,396.37 L188.78,396.68 L189.70,396.99 L190.62,397.30 L191.54,397.61 L192.47,397.91 L193.39,398.22 L194.31,398.52 L195.24,398.83 L196.16,399.13 L197.09,399.44 L198.01,399.74 L198.94,400.05 L199.86,400.35 L200.79,400.66 L201.71,400.97 L202.64,401.27 L203.56,401.58 L204.49,401.89 L205.41,402.20 L206.33,402.51 L207.26,402.82 L208.18,403.13 L209.10,403.45 L210.03,403.76 L210.95,404.08 L211.87,404.40 L212.79,404.72 L213.71,405.04 L214.63,405.37 L215.55,405.69 L216.47,406.02 L217.38,406.35 L218.30,406.69 L219.21,407.02 L220.13,407.36 L221.04,407.70 L221.96,408.04 L222.87,408.39 L223.78,408.74 L224.69,409.09 L225.60,409.44 L226.51,409.79 L227.41,410.15 L228.32,410.51 L229.23,410.87 L230.13,411.23 L231.04,411.60 L231.94,411.96 L232.84,412.33 L233.74,412.70 L234.64,413.08 L235.54,413.45 L236.44,413.83 L237.34,414.21 L238.24,414.59 L239.14,414.98 L240.03,415.36 L240.93,415.75 L241.82,416.14 L242.72,416.53 L243.61,416.92 L244.50,417.32 L245.39,417.72 L246.28,418.11 L247.17,418.52 L248.06,418.92 L248.95,419.32 L249.84,419.73 L250.72,420.14 L251.61,420.55 L252.49,420.96 L253.38,421.37 L254.26,421.79 L255.14,422.21 L256.03,422.62 L256.91,423.04 L257.79,423.47 L258.67,423.89 L259.55,424.32 L260.42,424.74 L261.30,425.17 L262.18,425.60 L263.05,426.03 L263.93,426.47 L264.80,426.90 L265.68,427.34 L266.55,427.78 L267.42,428.22 L268.29,428.66 L269.17,429.10 L270.04,429.55 L270.90,429.99 L271.77,430.44 L272.64,430.89 L273.51,431.34 L274.37,431.79 L275.24,432.24 L276.11,432.70 L276.97,433.15 L277.83,433.61 L278.70,434.07 L279.56,434.53 L280.42,434.99 L281.28,435.45 L282.14,435.91 L283.00,436.38 L283.86,436.84 L284.72,437.31 L285.57,437.78 L286.43,438.25 L287.29,438.72 L288.14,439.19 L289.00,439.66 L289.85,440.14 L290.70,440.62 L291.56,441.09 L292.41,441.57 L293.26,442.05 L294.11,442.53 L294.96,443.01 L295.80,443.50 L296.65,443.98 L297.50,444.47 L298.34,444.96 L299.19,445.45 L300.03,445.94 L300.88,446.43 L301.72,446.92 L302.56,447.42 L303.40,447.91 L304.24,448.41 L305.08,448.91 L305.92,449.41 L306.76,449.91 L307.60,450.41 L308.43,450.92 L309.27,451.42 L310.10,451.93 L310.94,452.44 L311.77,452.95 L312.60,453.46 L313.43,453.97 L314.26,454.48 L315.09,455.00 L315.92,455.52 L316.74,456.03 L317.57,456.55 L318.40,457.07 L319.22,457.60 L320.04,458.12 L320.87,458.64 L321.69,459.17 L322.51,459.70 L323.33,460.23 L324.14,460.76 L324.96,461.29 L325.78,461.83 L326.59,462.36 L327.41,462.90 L328.22,463.44 L329.03,463.98 L329.85,464.52 L330.66,465.06 L331.47,465.61 L332.27,466.15 L333.08,466.70 L333.89,467.25 L334.69,467.80 L335.50,468.35 L336.30,468.90 L337.10,469.46 L337.90,470.01 L338.70,470.57 L339.50,471.13 L340.30,471.69 L341.10,472.26 L341.89,472.82 L342.69,473.38 L343.48,473.95 L344.27,474.52 L345.06,475.09 L345.85,475.66 L346.64,476.24 L347.43,476.81 L348.22,477.39 L349.00,477.97 L349.79,478.55 L350.57,479.13 L351.35,479.71 L352.13,480.30 L352.91,480.88 L353.69,481.47 L354.47,482.06 L355.24,482.65 L356.02,483.24 L356.79,483.84 L357.56,484.43 L358.34,485.03 L359.11,485.63 L359.87,486.23 L360.64,486.84 L361.41,487.44 L362.17,488.05 L362.94,488.65 L363.70,489.26 L364.46,489.87 L365.22,490.49 L365.98,491.10 L366.73,491.72 L367.49,492.33 L368.25,492.95 L369.00,493.58 L369.75,494.20 L370.50,494.82 L371.25,495.45 L372.00,496.08 L372.75,496.71 L373.49,497.34 L374.23,497.97 L374.98,498.61 L375.72,499.24 L376.46,499.88 L377.20,500.52 L377.93,501.16 L378.67,501.81 L379.41,502.45 L380.14,503.10 L380.87,503.75 L381.60,504.40" fill="none" stroke="#FF0000" stroke-width="2.25" stroke-linejoin="round" stroke-linecap="round"/>
<text x="42.60" y="237.95" font-size="10" text-anchor="end" fill="#262626">0</text><text x="42.60" y="217.93" font-size="10" text-anchor="end" fill="#262626">0.1</text><text x="42.60" y="197.91" font-size="10" text-anchor="end" fill="#262626">0.2</text><text x="42.60" y="177.89" font-size="10" text-anchor="end" fill="#262626">0.3</text><text x="42.60" y="157.87" font-size="10" text-anchor="end" fill="#262626">0.4</text><text x="42.60" y="137.85" font-size="10" text-anchor="end" fill="#262626">0.5</text><text x="42.60" y="117.83" font-size="10" text-anchor="end" fill="#262626">0.6</text><text x="42.60" y="97.81" font-size="10" text-anchor="end" fill="#262626">0.7</text><text x="42.60" y="77.79" font-size="10" text-anchor="end" fill="#262626">0.8</text><text x="42.60" y="57.77" font-size="10" text-anchor="end" fill="#262626">0.9</text><text x="42.60" y="37.75" font-size="10" text-anchor="end" fill="#262626">1</text><text x="51.60" y="250.75" font-size="10" text-anchor="middle" fill="#262626">0</text><text x="114.18" y="250.75" font-size="10" text-anchor="middle" fill="#262626">20</text><text x="176.76" y="250.75" font-size="10" text-anchor="middle" fill="#262626">40</text><text x="239.34" y="250.75" font-size="10" text-anchor="middle" fill="#262626">60</text><text x="301.92" y="250.75" font-size="10" text-anchor="middle" fill="#262626">80</text><text x="364.50" y="250.75" font-size="10" text-anchor="middle" fill="#262626">100</text>
<text x="44.20" y="506.85" font-size="10" text-anchor="end" fill="#262626">0</text><text x="44.20" y="487.17" font-size="10" text-anchor="end" fill="#262626">0.1</text><text x="44.20" y="467.49" font-size="10" text-anchor="end" fill="#262626">0.2</text><text x="44.20" y="447.81" font-size="10" text-anchor="end" fill="#262626">0.3</text><text x="44.20" y="428.13" font-size="10" text-anchor="end" fill="#262626">0.4</text><text x="44.20" y="408.45" font-size="10" text-anchor="end" fill="#262626">0.5</text><text x="44.20" y="388.77" font-size="10" text-anchor="end" fill="#262626">0.6</text><text x="44.20" y="369.09" font-size="10" text-anchor="end" fill="#262626">0.7</text><text x="44.20" y="349.41" font-size="10" text-anchor="end" fill="#262626">0.8</text><text x="44.20" y="329.73" font-size="10" text-anchor="end" fill="#262626">0.9</text><text x="44.20" y="310.05" font-size="10" text-anchor="end" fill="#262626">1</text><text x="52.50" y="518.85" font-size="10" text-anchor="middle" fill="#262626">0</text><text x="118.32" y="518.85" font-size="10" text-anchor="middle" fill="#262626">20</text><text x="184.14" y="518.85" font-size="10" text-anchor="middle" fill="#262626">40</text><text x="249.96" y="518.85" font-size="10" text-anchor="middle" fill="#262626">60</text><text x="315.78" y="518.85" font-size="10" text-anchor="middle" fill="#262626">80</text><text x="381.60" y="518.85" font-size="10" text-anchor="middle" fill="#262626">100</text>
<text x="63.6" y="21.8" font-size="12.9" font-weight="bold" fill="#000">Hypsometric curve for the channels of the northern zone</text>
<text x="69.2" y="293.6" font-size="12.38" font-weight="bold" fill="#000">Hypsometric curve for the channels of the southern zone</text>
<text x="207.8" y="265.9" font-size="11.3" font-weight="bold" text-anchor="middle" fill="#000" xml:space="preserve">Relative  Area (%)</text>
<text x="217.3" y="533.7" font-size="10.9" font-weight="bold" text-anchor="middle" fill="#000" xml:space="preserve">Relative  Area (%)</text>
<text transform="translate(21.2,138.6) rotate(-90)" x="0" y="0" font-size="11.4" font-weight="bold" text-anchor="middle" fill="#000">Relative height (normalized)</text>
<text transform="translate(22.4,407.5) rotate(-90)" x="0" y="0" font-size="10.9" font-weight="bold" text-anchor="middle" fill="#000">Relative height (normalized)</text>
<line x1="381.8" y1="62.20" x2="396.6" y2="62.20" stroke="#C0272D" stroke-width="1.25"/><text x="397.3" y="65.10" font-size="10" fill="#1E1E1E">Negro _R</text><line x1="381.8" y1="77.60" x2="396.6" y2="77.60" stroke="#A9CBEA" stroke-width="1.25"/><text x="397.3" y="80.50" font-size="10" fill="#1E1E1E">Chorrerana_S</text><line x1="381.8" y1="93.00" x2="396.6" y2="93.00" stroke="#FFAD00" stroke-width="1.25"/><text x="397.3" y="95.90" font-size="10" fill="#1E1E1E">Guaca_R</text><line x1="381.8" y1="108.40" x2="396.6" y2="108.40" stroke="#FFFF00" stroke-width="1.25"/><text x="397.3" y="111.30" font-size="10" fill="#1E1E1E">Abra_S</text><line x1="381.8" y1="123.80" x2="396.6" y2="123.80" stroke="#92D050" stroke-width="1.25"/><text x="397.3" y="126.70" font-size="10" fill="#1E1E1E">Seca_S</text><line x1="381.8" y1="139.20" x2="396.6" y2="139.20" stroke="#00B050" stroke-width="1.25"/><text x="397.3" y="142.10" font-size="10" fill="#1E1E1E">Talarcuta_S</text><line x1="381.8" y1="154.60" x2="396.6" y2="154.60" stroke="#557A45" stroke-width="1.25"/><text x="397.3" y="157.50" font-size="10" fill="#1E1E1E">LasPavas_S</text><line x1="381.8" y1="170.00" x2="396.6" y2="170.00" stroke="#D0601E" stroke-width="1.25"/><text x="397.3" y="172.90" font-size="10" fill="#1E1E1E">Perchiquez_Q</text><line x1="381.8" y1="185.40" x2="396.6" y2="185.40" stroke="#C89A1A" stroke-width="1.25"/><text x="397.3" y="188.30" font-size="10" fill="#1E1E1E">Umpala_R</text><line x1="381.8" y1="200.80" x2="396.6" y2="200.80" stroke="#3A3A3A" stroke-width="1.25"/><text x="397.3" y="203.70" font-size="10" fill="#1E1E1E">Manco_R</text><line x1="381.8" y1="216.20" x2="396.6" y2="216.20" stroke="#FF0000" stroke-width="2.3"/><text x="397.3" y="219.10" font-size="10" fill="#1E1E1E">Target curve</text>
<line x1="391.3" y1="377.30" x2="405.2" y2="377.30" stroke="#ED7D31" stroke-width="1.25"/><text x="406.4" y="380.40" font-size="9.7" fill="#1E1E1E">Felisco_S</text><line x1="391.3" y1="392.12" x2="405.2" y2="392.12" stroke="#A5A5A5" stroke-width="1.25"/><text x="406.4" y="395.22" font-size="9.7" fill="#1E1E1E">Basteña_S</text><line x1="391.3" y1="406.94" x2="405.2" y2="406.94" stroke="#FFC000" stroke-width="1.25"/><text x="406.4" y="410.04" font-size="9.7" fill="#1E1E1E">Cantabara_S</text><line x1="391.3" y1="421.76" x2="405.2" y2="421.76" stroke="#4472C4" stroke-width="1.25"/><text x="406.4" y="424.86" font-size="9.7" fill="#1E1E1E">Calichana_S</text><line x1="391.3" y1="436.58" x2="405.2" y2="436.58" stroke="#70AD47" stroke-width="1.25"/><text x="406.4" y="439.68" font-size="9.7" fill="#1E1E1E">Cureña_S</text><line x1="391.3" y1="451.40" x2="405.2" y2="451.40" stroke="#4472C4" stroke-width="1.25"/><text x="406.4" y="454.50" font-size="9.7" fill="#1E1E1E">Lauchas_S</text><line x1="391.3" y1="466.22" x2="405.2" y2="466.22" stroke="#FF0000" stroke-width="2.3"/><text x="406.4" y="469.32" font-size="9.7" fill="#1E1E1E">Target curve</text>
<ellipse cx="446.3" cy="263.7" rx="16.6" ry="9.0" fill="#fff" stroke="#000" stroke-width="1.4"/>
<text transform="translate(446.1,267.8) scale(1,1.2)" x="0" y="0" font-size="11.3" font-weight="bold" text-anchor="middle" fill="#000">a</text>
<ellipse cx="446.3" cy="532.0" rx="16.6" ry="9.1" fill="#fff" stroke="#000" stroke-width="1.4"/>
<text transform="translate(446.4,535.8) scale(1,1.1)" x="0" y="0" font-size="11.5" font-weight="bold" text-anchor="middle" fill="#000">b</text>
</svg></body></html>
